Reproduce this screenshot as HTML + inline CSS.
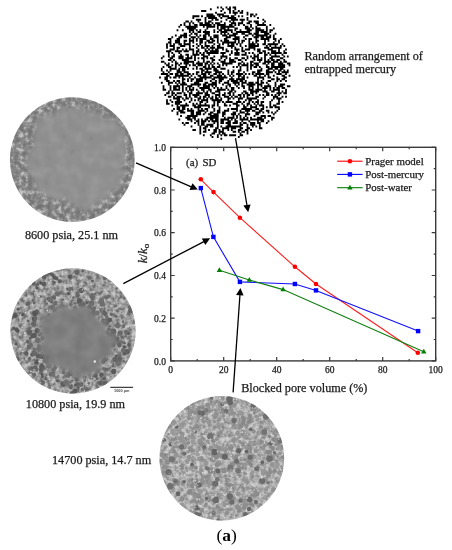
<!DOCTYPE html>
<html><head><meta charset="utf-8"><title>Figure</title><style>
html,body{margin:0;padding:0;background:#fff;}
body{width:452px;height:550px;overflow:hidden;}
svg{display:block;position:absolute;left:0;top:0;}
text{font-family:"Liberation Serif",serif;fill:#1a1a1a;stroke:#1a1a1a;stroke-width:0.25px;}
.tl{font-size:9.5px;}
.lg{font-size:10.9px;}
.ch{font-size:10.9px;}
.lab{font-size:12.2px;}
.yl{font-size:13px;}
.big{font-size:17.4px;fill:#000;stroke:none;}
</style></head>
<body><svg width="452" height="550" viewBox="0 0 452 550">
<defs>
<clipPath id="c1"><circle cx="72.3" cy="159.6" r="62.4"/></clipPath>
<clipPath id="c2"><circle cx="73" cy="330.9" r="62.6"/></clipPath>
<clipPath id="c3"><circle cx="221.8" cy="458.2" r="62.3"/></clipPath>
</defs>
<filter id="bl" color-interpolation-filters="sRGB"><feGaussianBlur stdDeviation="0.45"/></filter>
<filter id="bl2" x="-20%" y="-20%" width="140%" height="140%" color-interpolation-filters="sRGB"><feGaussianBlur stdDeviation="3"/></filter>
<filter id="bl3" color-interpolation-filters="sRGB"><feGaussianBlur stdDeviation="0.55"/></filter>
<filter id="x1" x="0" y="0" width="100%" height="100%" color-interpolation-filters="sRGB"><feTurbulence type="fractalNoise" baseFrequency="0.21" numOctaves="3" seed="17"/><feColorMatrix values="1 0 0 0 0  1 0 0 0 0  1 0 0 0 0  0 0 0 0 1"/><feComponentTransfer><feFuncR type="table" tableValues="0.45 0.45 0.45 0.46 0.49 0.53 0.60 0.70 0.78 0.80 0.80"/><feFuncG type="table" tableValues="0.45 0.45 0.45 0.46 0.49 0.53 0.60 0.70 0.78 0.80 0.80"/><feFuncB type="table" tableValues="0.45 0.45 0.45 0.46 0.49 0.53 0.60 0.70 0.78 0.80 0.80"/></feComponentTransfer></filter>
<filter id="x0" x="0" y="0" width="100%" height="100%" color-interpolation-filters="sRGB"><feTurbulence type="fractalNoise" baseFrequency="0.09" numOctaves="2" seed="5"/><feColorMatrix values="1 0 0 0 0  1 0 0 0 0  1 0 0 0 0  0 0 0 0 1"/><feComponentTransfer><feFuncR type="table" tableValues="0.53 0.53 0.54 0.56 0.56 0.57 0.58 0.59 0.60 0.60 0.60"/><feFuncG type="table" tableValues="0.53 0.53 0.54 0.56 0.56 0.57 0.58 0.59 0.60 0.60 0.60"/><feFuncB type="table" tableValues="0.53 0.53 0.54 0.56 0.56 0.57 0.58 0.59 0.60 0.60 0.60"/></feComponentTransfer></filter>
<filter id="x2" x="0" y="0" width="100%" height="100%" color-interpolation-filters="sRGB"><feTurbulence type="fractalNoise" baseFrequency="0.25" numOctaves="3" seed="9"/><feColorMatrix values="1 0 0 0 0  1 0 0 0 0  1 0 0 0 0  0 0 0 0 1"/><feComponentTransfer><feFuncR type="table" tableValues="0.40 0.40 0.41 0.45 0.53 0.61 0.68 0.74 0.79 0.79 0.79"/><feFuncG type="table" tableValues="0.40 0.40 0.41 0.45 0.53 0.61 0.68 0.74 0.79 0.79 0.79"/><feFuncB type="table" tableValues="0.40 0.40 0.41 0.45 0.53 0.61 0.68 0.74 0.79 0.79 0.79"/></feComponentTransfer></filter>
<filter id="x2c" x="0" y="0" width="100%" height="100%" color-interpolation-filters="sRGB"><feTurbulence type="fractalNoise" baseFrequency="0.08" numOctaves="2" seed="2"/><feColorMatrix values="1 0 0 0 0  1 0 0 0 0  1 0 0 0 0  0 0 0 0 1"/><feComponentTransfer><feFuncR type="table" tableValues="0.46 0.46 0.47 0.48 0.49 0.50 0.51 0.52 0.53 0.53 0.53"/><feFuncG type="table" tableValues="0.46 0.46 0.47 0.48 0.49 0.50 0.51 0.52 0.53 0.53 0.53"/><feFuncB type="table" tableValues="0.46 0.46 0.47 0.48 0.49 0.50 0.51 0.52 0.53 0.53 0.53"/></feComponentTransfer></filter>
<filter id="x3" x="0" y="0" width="100%" height="100%" color-interpolation-filters="sRGB"><feTurbulence type="fractalNoise" baseFrequency="0.24" numOctaves="3" seed="21"/><feColorMatrix values="1 0 0 0 0  1 0 0 0 0  1 0 0 0 0  0 0 0 0 1"/><feComponentTransfer><feFuncR type="table" tableValues="0.50 0.50 0.52 0.56 0.62 0.68 0.74 0.79 0.83 0.83 0.83"/><feFuncG type="table" tableValues="0.50 0.50 0.52 0.56 0.62 0.68 0.74 0.79 0.83 0.83 0.83"/><feFuncB type="table" tableValues="0.50 0.50 0.52 0.56 0.62 0.68 0.74 0.79 0.83 0.83 0.83"/></feComponentTransfer></filter>
<filter id="bm" x="-20%" y="-20%" width="140%" height="140%"><feGaussianBlur stdDeviation="1.2"/></filter>
<filter id="bm2" x="-20%" y="-20%" width="140%" height="140%"><feGaussianBlur stdDeviation="2.6"/></filter>
<g clip-path="url(#c1)"><rect x="9" y="97" width="127" height="126" filter="url(#x1)"/>
<g mask="url(#mk1)"><rect x="9" y="97" width="127" height="126" filter="url(#x0)"/></g>
<mask id="mk1"><polygon points="125.5,159.6 125.6,161.7 123.8,163.7 122.7,165.6 121.4,167.4 124.7,170 123.6,171.9 124.7,174.4 122.5,175.9 123.8,178.6 120.8,179.7 122.3,182.7 120.9,184.4 118.3,185.4 117.5,187.3 116.7,189.3 113.2,189.3 113.1,191.8 112.6,194 109.1,193.6 109.5,196.8 107.6,197.8 106.7,199.8 103.6,199.3 101.4,199.7 102,204 100.4,205.4 97.8,205.1 95.3,204.7 93.7,206.1 92.7,208.8 90.1,207.8 89.1,211.2 86.4,209.5 83.8,207.3 82.1,209.1 79.8,207 78.1,209 76.1,207.9 74.1,204.9 72.3,204.6 70.6,203.9 68.8,203.6 67.1,203.7 66.1,198.5 64.3,199.7 62.5,200.6 61.2,199 59.1,200.3 58.2,197.9 54.9,201.5 53.8,199.8 52.8,197.8 49.7,199.9 48.8,197.9 47.4,196.8 45,197.2 44.5,194.8 43,194 39.5,195.1 38.9,193 40.4,189.1 36.6,190.1 38.7,186.1 36.7,185.5 33.5,185.5 33.9,183.1 34.5,180.8 33.3,179.5 32.4,178 32.8,176 27.8,176 31.5,172.9 29,171.8 26.7,170.5 27.9,168.4 24.7,167.1 28.1,164.8 24.5,163.4 25.1,161.5 26.6,159.6 26.1,157.8 28.9,156.2 27.7,154.3 28.7,152.7 30.8,151.3 31.7,149.8 31.1,148 33,146.8 34.9,145.8 32,142.9 34.3,142.1 33.4,139.8 32,137.1 34.7,136.5 35.3,134.9 34.9,132.5 33.3,128.9 34.6,127.4 35.6,125.7 35.8,123.1 35.2,119.5 38.8,120.3 39.7,118.3 40,115.2 42.6,115.2 45.4,115.7 46.8,114.1 48.8,113.5 51.5,114.6 53,113 55.1,113 56.2,110.1 58.9,112 60.3,109.8 62,107.7 64,107.3 66.4,109.5 68.2,107.7 70.3,108.6 72.3,107.8 74.4,107 76.6,105.4 78.8,104.7 80.5,108 82.2,109.8 84.7,108.1 86.1,110.7 87.9,111.6 91,108.9 91.6,112.9 94.7,111.1 95.8,113.6 99,111.9 100.8,113.2 100.6,117.3 102.9,117.5 107.3,115.2 108.4,117.3 110,118.8 113.5,118.4 115.8,119.4 116.8,121.6 118.7,123 119.1,125.6 121.8,126.6 122.3,129 125.5,129.8 126.3,132.1 124.8,135.4 127.4,136.8 125,140.2 124.9,142.5 127.2,144.1 126,146.7 127.7,148.6 125.9,151.1 125.9,153.3 122.7,155.6 125.9,157.5" fill="#fff" filter="url(#bm2)"/></mask>
</g>
<g clip-path="url(#c2)"><rect x="10" y="268" width="127" height="127" filter="url(#x2)"/>
<g filter="url(#bl)">
<circle cx="33.5" cy="283.4" r="2.1" fill="#616161"/><circle cx="79.5" cy="360.1" r="1.8" fill="#575757"/><circle cx="82.7" cy="271" r="1.5" fill="#636363"/><circle cx="34.2" cy="374.7" r="2" fill="#686868"/><circle cx="18.1" cy="309.2" r="1.6" fill="#5b5b5b"/><circle cx="130.2" cy="307.4" r="2.3" fill="#6a6a6a"/><circle cx="74.9" cy="303.3" r="1.5" fill="#6c6c6c"/><circle cx="77" cy="272.3" r="2.6" fill="#666666"/><circle cx="46" cy="378.8" r="1.7" fill="#5b5b5b"/><circle cx="48.9" cy="315.1" r="2" fill="#5f5f5f"/><circle cx="82.5" cy="338.6" r="1.9" fill="#6b6b6b"/><circle cx="123" cy="321.8" r="1.2" fill="#646464"/><circle cx="54.9" cy="322.4" r="1.7" fill="#5c5c5c"/><circle cx="74.5" cy="318.5" r="1.3" fill="#5c5c5c"/><circle cx="31.9" cy="336.7" r="1.7" fill="#606060"/><circle cx="124.3" cy="347.1" r="1.8" fill="#585858"/><circle cx="77.4" cy="367.9" r="2.1" fill="#5c5c5c"/><circle cx="92.5" cy="280.9" r="1.4" fill="#595959"/><circle cx="68.1" cy="374.3" r="1.9" fill="#666666"/><circle cx="27.4" cy="303.9" r="2.2" fill="#656565"/><circle cx="70" cy="276.5" r="2.2" fill="#595959"/><circle cx="113" cy="344.5" r="2.6" fill="#565656"/><circle cx="33.8" cy="312.2" r="1.2" fill="#595959"/><circle cx="31.9" cy="354.9" r="1.8" fill="#5e5e5e"/><circle cx="34.3" cy="353.3" r="2.7" fill="#676767"/><circle cx="42.3" cy="376.7" r="1.4" fill="#5e5e5e"/><circle cx="104.6" cy="341" r="2.1" fill="#626262"/><circle cx="53.5" cy="360.3" r="2.6" fill="#5b5b5b"/><circle cx="15.2" cy="315.6" r="2.5" fill="#575757"/><circle cx="36.1" cy="362.7" r="2.1" fill="#575757"/><circle cx="104.3" cy="358.2" r="1.8" fill="#5d5d5d"/><circle cx="81.3" cy="290.6" r="2.6" fill="#606060"/><circle cx="17.5" cy="330.7" r="2.1" fill="#575757"/><circle cx="116.5" cy="356" r="1.5" fill="#565656"/><circle cx="37.4" cy="369.9" r="1.8" fill="#6b6b6b"/><circle cx="39.6" cy="335.2" r="1.3" fill="#606060"/><circle cx="96.7" cy="356.3" r="2.1" fill="#595959"/><circle cx="32.4" cy="368.8" r="2.5" fill="#676767"/><circle cx="91.4" cy="303.2" r="2.5" fill="#5e5e5e"/><circle cx="34" cy="303.1" r="1.4" fill="#666666"/><circle cx="72.5" cy="330.9" r="1.3" fill="#676767"/><circle cx="34.3" cy="319.1" r="2.5" fill="#585858"/><circle cx="58.8" cy="350.4" r="1.4" fill="#5b5b5b"/><circle cx="52.8" cy="275.1" r="1.9" fill="#5a5a5a"/><circle cx="35" cy="313.6" r="2.6" fill="#565656"/><circle cx="76.4" cy="364.4" r="1.1" fill="#666666"/><circle cx="96.3" cy="369.3" r="2.4" fill="#595959"/><circle cx="81.8" cy="383.7" r="1.5" fill="#5f5f5f"/><circle cx="62" cy="346.2" r="2.3" fill="#606060"/><circle cx="50.7" cy="353" r="2.4" fill="#575757"/><circle cx="92.1" cy="308.5" r="1.6" fill="#5d5d5d"/><circle cx="40.8" cy="283.1" r="1.6" fill="#565656"/><circle cx="46" cy="317.6" r="1.3" fill="#626262"/><circle cx="48.8" cy="336.1" r="2.5" fill="#616161"/><circle cx="123.5" cy="326.4" r="1.5" fill="#676767"/><circle cx="37.6" cy="284.3" r="1.5" fill="#5f5f5f"/><circle cx="80" cy="324" r="1.5" fill="#5d5d5d"/><circle cx="70.6" cy="368.6" r="1.9" fill="#585858"/><circle cx="94.9" cy="294.1" r="1.3" fill="#6b6b6b"/><circle cx="83.4" cy="325.8" r="2.1" fill="#575757"/><circle cx="59.8" cy="325.8" r="2.5" fill="#646464"/><circle cx="55.6" cy="304.1" r="1.1" fill="#585858"/><circle cx="104.8" cy="278.3" r="2" fill="#6a6a6a"/><circle cx="43.9" cy="284" r="2.3" fill="#5b5b5b"/><circle cx="83.7" cy="306.3" r="1.5" fill="#6c6c6c"/><circle cx="35.2" cy="367.5" r="2.3" fill="#646464"/><circle cx="80.2" cy="290.2" r="1.7" fill="#646464"/><circle cx="80.1" cy="371.3" r="1.5" fill="#5c5c5c"/><circle cx="108.4" cy="296.5" r="1.9" fill="#6b6b6b"/><circle cx="46.8" cy="274.1" r="2.6" fill="#696969"/><circle cx="79.8" cy="312.7" r="2.4" fill="#616161"/><circle cx="104.1" cy="311.9" r="1.7" fill="#5a5a5a"/><circle cx="16.2" cy="344" r="1.6" fill="#595959"/><circle cx="26.3" cy="353.5" r="2.2" fill="#5d5d5d"/><circle cx="60" cy="281.1" r="1.9" fill="#5e5e5e"/><circle cx="70.9" cy="288.8" r="2.1" fill="#6c6c6c"/><circle cx="22.9" cy="314.7" r="1.9" fill="#5b5b5b"/><circle cx="99.9" cy="355.3" r="2.2" fill="#6b6b6b"/><circle cx="66" cy="324.7" r="2.2" fill="#686868"/><circle cx="50.7" cy="374.4" r="2.3" fill="#6a6a6a"/><circle cx="78.1" cy="384" r="2.1" fill="#606060"/><circle cx="81.7" cy="345.2" r="1.5" fill="#606060"/><circle cx="126.4" cy="332.3" r="2.5" fill="#6c6c6c"/><circle cx="54.3" cy="277.4" r="1.8" fill="#565656"/><circle cx="67" cy="316.5" r="1.2" fill="#696969"/><circle cx="13.9" cy="328.5" r="1.4" fill="#595959"/><circle cx="87.1" cy="367.6" r="1.4" fill="#5f5f5f"/><circle cx="68.5" cy="293.6" r="1.7" fill="#5b5b5b"/><circle cx="67.3" cy="289" r="1.1" fill="#595959"/><circle cx="34.6" cy="321.1" r="2.1" fill="#656565"/><circle cx="89.4" cy="306.8" r="2.2" fill="#5e5e5e"/><circle cx="56.4" cy="278.5" r="1.9" fill="#5d5d5d"/><circle cx="28.2" cy="321.1" r="1.3" fill="#5e5e5e"/><circle cx="104.8" cy="313.7" r="2.6" fill="#646464"/><circle cx="76.2" cy="379" r="1.9" fill="#565656"/><circle cx="36.9" cy="360.2" r="1.2" fill="#565656"/><circle cx="54.2" cy="282.3" r="1.5" fill="#616161"/><circle cx="42.8" cy="382.5" r="2.4" fill="#696969"/><circle cx="70.7" cy="322.1" r="2.3" fill="#616161"/><circle cx="124.8" cy="353.7" r="1.7" fill="#5e5e5e"/><circle cx="87.4" cy="352" r="2.2" fill="#676767"/><circle cx="36.9" cy="287.8" r="1.5" fill="#585858"/><circle cx="16.6" cy="329.2" r="2" fill="#595959"/><circle cx="123.9" cy="361.1" r="1.1" fill="#6a6a6a"/><circle cx="108.9" cy="329.3" r="1.8" fill="#666666"/><circle cx="95.2" cy="363.2" r="2.3" fill="#5b5b5b"/><circle cx="50.6" cy="273.9" r="1.4" fill="#575757"/><circle cx="105.1" cy="323.7" r="2.4" fill="#666666"/><circle cx="73.4" cy="297.5" r="1.3" fill="#696969"/><circle cx="128.7" cy="333.5" r="1.7" fill="#616161"/><circle cx="63.1" cy="372.7" r="1.3" fill="#595959"/><circle cx="129.1" cy="344.5" r="1.7" fill="#5c5c5c"/><circle cx="41.5" cy="364.4" r="1.3" fill="#5f5f5f"/><circle cx="17.4" cy="359.2" r="2.4" fill="#626262"/><circle cx="51.2" cy="301.6" r="1.7" fill="#595959"/><circle cx="130.6" cy="310.7" r="2.5" fill="#616161"/><circle cx="44.2" cy="277.4" r="2.3" fill="#606060"/><circle cx="109.8" cy="320" r="2.3" fill="#595959"/><circle cx="72.1" cy="393.4" r="2.3" fill="#5d5d5d"/><circle cx="99.1" cy="350.3" r="2.4" fill="#646464"/>
<circle cx="99.6" cy="373.4" r="0.5" fill="#c9c9c9"/><circle cx="34.7" cy="352.3" r="0.4" fill="#dcdcdc"/><circle cx="45.9" cy="383.8" r="0.4" fill="#d2d2d2"/><circle cx="24.9" cy="333" r="0.9" fill="#dbdbdb"/><circle cx="116.2" cy="353.7" r="0.6" fill="#c6c6c6"/><circle cx="96.4" cy="300.1" r="0.7" fill="#d9d9d9"/><circle cx="51.3" cy="306.5" r="0.7" fill="#cfcfcf"/><circle cx="93.1" cy="272.5" r="0.5" fill="#cecece"/><circle cx="22.5" cy="351.6" r="0.8" fill="#dedede"/><circle cx="116.5" cy="329.6" r="0.5" fill="#d5d5d5"/><circle cx="103.4" cy="384.1" r="0.4" fill="#d3d3d3"/><circle cx="108.6" cy="350" r="0.6" fill="#cacaca"/><circle cx="26.8" cy="331.6" r="0.9" fill="#dcdcdc"/><circle cx="38.7" cy="368" r="0.4" fill="#c8c8c8"/><circle cx="43.1" cy="348.9" r="0.7" fill="#d0d0d0"/><circle cx="36.3" cy="306.6" r="0.4" fill="#cfcfcf"/><circle cx="114.5" cy="299.7" r="0.5" fill="#d6d6d6"/><circle cx="113.8" cy="311" r="0.8" fill="#e0e0e0"/><circle cx="56.9" cy="275.5" r="0.6" fill="#cecece"/><circle cx="65.3" cy="366.8" r="0.4" fill="#c6c6c6"/><circle cx="112" cy="335.8" r="0.7" fill="#d1d1d1"/><circle cx="116.9" cy="373.2" r="0.5" fill="#cfcfcf"/><circle cx="47.2" cy="310.4" r="0.9" fill="#dddddd"/><circle cx="82.9" cy="368.9" r="0.9" fill="#d5d5d5"/><circle cx="60.5" cy="317.5" r="0.5" fill="#d2d2d2"/><circle cx="58.2" cy="363.5" r="0.6" fill="#dbdbdb"/><circle cx="70.7" cy="367.6" r="0.5" fill="#cbcbcb"/><circle cx="116.2" cy="334.6" r="0.8" fill="#cacaca"/><circle cx="20.7" cy="297.6" r="0.4" fill="#dadada"/><circle cx="71.6" cy="291.2" r="0.6" fill="#cdcdcd"/><circle cx="28" cy="331.4" r="0.4" fill="#dddddd"/><circle cx="75.8" cy="333.6" r="0.6" fill="#d9d9d9"/><circle cx="92.3" cy="325.1" r="0.7" fill="#d1d1d1"/><circle cx="125.3" cy="350.9" r="0.8" fill="#c8c8c8"/><circle cx="53.1" cy="292.2" r="0.5" fill="#c8c8c8"/><circle cx="65.6" cy="311" r="0.9" fill="#dfdfdf"/><circle cx="39.5" cy="345.9" r="0.5" fill="#cdcdcd"/><circle cx="86.1" cy="380.5" r="0.9" fill="#d2d2d2"/><circle cx="133.2" cy="338.9" r="0.6" fill="#cecece"/><circle cx="134.6" cy="325.3" r="0.8" fill="#dfdfdf"/><circle cx="112.7" cy="360.1" r="0.5" fill="#cbcbcb"/><circle cx="45" cy="327.9" r="0.7" fill="#d6d6d6"/><circle cx="40.2" cy="309.5" r="0.5" fill="#d3d3d3"/><circle cx="79.5" cy="386" r="0.5" fill="#d8d8d8"/><circle cx="85.1" cy="305" r="0.5" fill="#dedede"/><circle cx="39" cy="370.7" r="0.9" fill="#d4d4d4"/><circle cx="59.6" cy="277.7" r="0.6" fill="#dedede"/><circle cx="126.2" cy="313" r="0.6" fill="#d6d6d6"/><circle cx="62.2" cy="272.5" r="0.5" fill="#c4c4c4"/><circle cx="48.2" cy="366.5" r="0.8" fill="#d6d6d6"/><circle cx="124.4" cy="363.7" r="0.7" fill="#cfcfcf"/><circle cx="75.1" cy="344.8" r="0.8" fill="#c9c9c9"/><circle cx="45.2" cy="374.7" r="0.5" fill="#e0e0e0"/><circle cx="30.9" cy="374.3" r="0.5" fill="#d7d7d7"/><circle cx="40.6" cy="382.8" r="0.5" fill="#dcdcdc"/><circle cx="71.2" cy="388.5" r="0.6" fill="#d5d5d5"/><circle cx="101.7" cy="373.7" r="0.6" fill="#c7c7c7"/><circle cx="86.2" cy="349.7" r="0.6" fill="#dbdbdb"/><circle cx="32.8" cy="344" r="0.8" fill="#d6d6d6"/><circle cx="35.6" cy="290.2" r="0.6" fill="#dcdcdc"/><circle cx="42.3" cy="327.8" r="0.6" fill="#c5c5c5"/><circle cx="69" cy="313.9" r="0.5" fill="#dedede"/><circle cx="103" cy="351.8" r="0.5" fill="#d8d8d8"/><circle cx="31" cy="371.4" r="0.8" fill="#cccccc"/><circle cx="19.5" cy="334.4" r="0.8" fill="#cbcbcb"/><circle cx="102.5" cy="372.8" r="0.8" fill="#cecece"/><circle cx="82.5" cy="289.8" r="0.6" fill="#dfdfdf"/><circle cx="131.2" cy="327.8" r="0.4" fill="#d9d9d9"/><circle cx="30.5" cy="350.4" r="0.6" fill="#cacaca"/><circle cx="91.1" cy="283.9" r="0.6" fill="#dfdfdf"/><circle cx="88.2" cy="387.9" r="0.8" fill="#cacaca"/><circle cx="70.2" cy="295.6" r="0.5" fill="#c8c8c8"/><circle cx="73.4" cy="361.9" r="0.7" fill="#dbdbdb"/><circle cx="110" cy="282.8" r="0.5" fill="#c4c4c4"/><circle cx="26.2" cy="358.9" r="0.8" fill="#c8c8c8"/><circle cx="76" cy="313" r="0.7" fill="#d1d1d1"/><circle cx="77.1" cy="304.6" r="0.5" fill="#cccccc"/><circle cx="22.9" cy="322.4" r="0.6" fill="#d7d7d7"/><circle cx="50.9" cy="280.5" r="0.8" fill="#d0d0d0"/><circle cx="87.2" cy="330.6" r="0.5" fill="#c5c5c5"/><circle cx="64.7" cy="327.2" r="0.4" fill="#cfcfcf"/><circle cx="102.3" cy="343.4" r="0.6" fill="#d0d0d0"/><circle cx="22.3" cy="327.2" r="0.8" fill="#dfdfdf"/><circle cx="28.1" cy="340.4" r="0.9" fill="#e0e0e0"/><circle cx="91.5" cy="377.4" r="0.6" fill="#e0e0e0"/><circle cx="94.2" cy="342.9" r="0.9" fill="#c9c9c9"/><circle cx="57.2" cy="283.6" r="0.8" fill="#cccccc"/><circle cx="25.6" cy="312.8" r="0.7" fill="#dcdcdc"/><circle cx="42.1" cy="368.7" r="0.7" fill="#d5d5d5"/><circle cx="54.6" cy="310.3" r="0.9" fill="#d9d9d9"/><circle cx="39.2" cy="321" r="0.6" fill="#dfdfdf"/><circle cx="82.6" cy="321.6" r="0.6" fill="#c5c5c5"/><circle cx="48.9" cy="318.1" r="0.5" fill="#c7c7c7"/><circle cx="68.2" cy="392.6" r="0.7" fill="#c9c9c9"/><circle cx="106.6" cy="339.1" r="0.5" fill="#c9c9c9"/><circle cx="84" cy="349" r="0.7" fill="#c7c7c7"/><circle cx="80.1" cy="337.1" r="0.9" fill="#d6d6d6"/><circle cx="39.3" cy="296.8" r="0.8" fill="#d4d4d4"/><circle cx="81.6" cy="298.7" r="0.6" fill="#cbcbcb"/><circle cx="47.2" cy="341.3" r="0.9" fill="#d5d5d5"/><circle cx="120.2" cy="318.8" r="0.4" fill="#d9d9d9"/><circle cx="34" cy="369.8" r="0.8" fill="#cacaca"/><circle cx="54.4" cy="327.4" r="0.5" fill="#c6c6c6"/><circle cx="113.1" cy="309.6" r="0.6" fill="#d4d4d4"/><circle cx="64.4" cy="356.4" r="0.8" fill="#dfdfdf"/><circle cx="122.3" cy="363.2" r="0.4" fill="#c6c6c6"/><circle cx="59.6" cy="373.9" r="0.6" fill="#c9c9c9"/><circle cx="44.9" cy="290.6" r="0.7" fill="#c6c6c6"/><circle cx="35.6" cy="329.1" r="0.4" fill="#d8d8d8"/><circle cx="39.4" cy="361.5" r="0.8" fill="#d1d1d1"/><circle cx="117.1" cy="347" r="0.6" fill="#cfcfcf"/><circle cx="99.3" cy="282.8" r="0.5" fill="#cfcfcf"/><circle cx="45.9" cy="287.9" r="0.6" fill="#c8c8c8"/><circle cx="111.2" cy="282.8" r="0.9" fill="#cccccc"/><circle cx="49.5" cy="379.5" r="0.9" fill="#d7d7d7"/><circle cx="69.1" cy="388.2" r="0.5" fill="#c4c4c4"/><circle cx="102.2" cy="355.1" r="0.5" fill="#cacaca"/><circle cx="92.2" cy="354.5" r="0.5" fill="#dddddd"/><circle cx="27.6" cy="288.8" r="0.8" fill="#d2d2d2"/><circle cx="108.9" cy="342.2" r="0.7" fill="#cfcfcf"/><circle cx="92.6" cy="341.7" r="0.5" fill="#c7c7c7"/><circle cx="117.3" cy="307.7" r="0.6" fill="#dedede"/><circle cx="62.6" cy="271.3" r="0.7" fill="#d1d1d1"/><circle cx="84.6" cy="391.1" r="0.8" fill="#dbdbdb"/><circle cx="77.4" cy="279.7" r="0.5" fill="#cacaca"/><circle cx="107.6" cy="292.7" r="0.9" fill="#d0d0d0"/><circle cx="58.8" cy="297.8" r="0.7" fill="#cfcfcf"/><circle cx="102.9" cy="315.9" r="0.7" fill="#d3d3d3"/><circle cx="128.2" cy="326.7" r="0.9" fill="#d6d6d6"/><circle cx="32.1" cy="289.1" r="0.6" fill="#d7d7d7"/><circle cx="25.3" cy="345.1" r="0.7" fill="#cdcdcd"/><circle cx="51.5" cy="387" r="0.8" fill="#d2d2d2"/><circle cx="52.4" cy="379.3" r="0.5" fill="#c7c7c7"/><circle cx="101.8" cy="341.9" r="0.4" fill="#cecece"/><circle cx="21.8" cy="329" r="0.7" fill="#d1d1d1"/><circle cx="65.3" cy="313.8" r="0.6" fill="#d5d5d5"/><circle cx="46.9" cy="378.8" r="0.4" fill="#dbdbdb"/><circle cx="84.3" cy="367.2" r="0.7" fill="#c5c5c5"/><circle cx="87.1" cy="384.3" r="0.6" fill="#dbdbdb"/><circle cx="50.2" cy="339" r="0.8" fill="#cacaca"/>
</g>
<g filter="url(#bl)"><circle cx="87" cy="302.9" r="1.4" fill="#5b5b5b"/><circle cx="63.1" cy="384.1" r="2.8" fill="#5f5f5f"/><circle cx="104.2" cy="378.4" r="1.9" fill="#606060"/><circle cx="127.9" cy="350" r="1.3" fill="#5e5e5e"/><circle cx="29.9" cy="338.4" r="1.3" fill="#626262"/><circle cx="106.8" cy="369.4" r="1.5" fill="#676767"/><circle cx="85.6" cy="377.1" r="1.1" fill="#5e5e5e"/><circle cx="58.8" cy="293.5" r="2.1" fill="#696969"/><circle cx="118.1" cy="362.9" r="2.8" fill="#6f6f6f"/><circle cx="84.8" cy="380.8" r="1.2" fill="#6a6a6a"/><circle cx="39.1" cy="349.4" r="2.4" fill="#696969"/><circle cx="112" cy="334.2" r="2.1" fill="#696969"/><circle cx="113.8" cy="334.4" r="2" fill="#707070"/><circle cx="120.2" cy="333.1" r="2.7" fill="#686868"/><circle cx="75.6" cy="384.9" r="1.7" fill="#5c5c5c"/><circle cx="79.6" cy="300.9" r="2.7" fill="#595959"/><circle cx="119.3" cy="355.6" r="2.3" fill="#707070"/><circle cx="113.3" cy="337.9" r="2.8" fill="#6a6a6a"/><circle cx="61.2" cy="306.8" r="1.8" fill="#6e6e6e"/><circle cx="54.5" cy="310.6" r="2" fill="#585858"/><circle cx="101.4" cy="300.9" r="2.7" fill="#707070"/><circle cx="48" cy="356.4" r="2.4" fill="#5c5c5c"/><circle cx="78" cy="295.3" r="1" fill="#585858"/><circle cx="78" cy="387.7" r="1.8" fill="#646464"/><circle cx="109.4" cy="334.9" r="2.5" fill="#5f5f5f"/><circle cx="71.7" cy="385.4" r="1.2" fill="#5d5d5d"/><circle cx="97.5" cy="371.1" r="2.6" fill="#6d6d6d"/><circle cx="37.7" cy="340.1" r="2.8" fill="#6e6e6e"/><circle cx="70.9" cy="304.3" r="1.9" fill="#6b6b6b"/><circle cx="93.3" cy="311.4" r="2.1" fill="#616161"/><circle cx="37.1" cy="330.5" r="2.6" fill="#585858"/><circle cx="41.1" cy="318.4" r="1" fill="#5c5c5c"/><circle cx="124.6" cy="343.3" r="1.2" fill="#5e5e5e"/><circle cx="53.9" cy="296.5" r="1.3" fill="#6d6d6d"/><circle cx="43.7" cy="368.4" r="1.9" fill="#6e6e6e"/><circle cx="91.8" cy="303.4" r="2.6" fill="#6c6c6c"/><circle cx="42.2" cy="356.4" r="2.6" fill="#5a5a5a"/><circle cx="97.1" cy="313.1" r="2.6" fill="#707070"/><circle cx="68.1" cy="375.6" r="2.3" fill="#6d6d6d"/><circle cx="29" cy="346.9" r="2.4" fill="#686868"/><circle cx="41.8" cy="366.6" r="2.7" fill="#606060"/><circle cx="41" cy="373" r="2" fill="#6e6e6e"/><circle cx="48" cy="298.7" r="1.5" fill="#5b5b5b"/><circle cx="101.5" cy="374.6" r="2.4" fill="#595959"/><circle cx="86.8" cy="389" r="2.1" fill="#6b6b6b"/><circle cx="58.9" cy="307.8" r="1" fill="#6f6f6f"/><circle cx="107" cy="332.6" r="2.2" fill="#5c5c5c"/><circle cx="70.7" cy="373.4" r="2.7" fill="#595959"/><circle cx="54" cy="297.4" r="2" fill="#646464"/><circle cx="113.6" cy="363.9" r="1.1" fill="#666666"/><circle cx="47.1" cy="303.5" r="1" fill="#666666"/><circle cx="74.7" cy="307.3" r="1.7" fill="#696969"/><circle cx="94" cy="314.5" r="1" fill="#595959"/><circle cx="49.1" cy="366.1" r="2.7" fill="#6c6c6c"/><circle cx="91.9" cy="295.8" r="2.7" fill="#6c6c6c"/><circle cx="103.9" cy="321.2" r="2.6" fill="#5a5a5a"/><circle cx="115.2" cy="359.3" r="2.8" fill="#646464"/><circle cx="42.7" cy="338.1" r="2.3" fill="#5e5e5e"/><circle cx="29.1" cy="328.3" r="1.6" fill="#676767"/><circle cx="80.8" cy="385.3" r="1.8" fill="#6a6a6a"/><circle cx="40.8" cy="370" r="2" fill="#5e5e5e"/><circle cx="47.4" cy="360.1" r="2.4" fill="#6c6c6c"/><circle cx="117.4" cy="338.9" r="2.2" fill="#626262"/><circle cx="112.7" cy="332" r="1.9" fill="#636363"/><circle cx="83.2" cy="303.8" r="1.6" fill="#5f5f5f"/><circle cx="109.5" cy="326.5" r="1.3" fill="#606060"/><circle cx="35.2" cy="333.7" r="1.5" fill="#5f5f5f"/><circle cx="63" cy="306.4" r="2.1" fill="#5a5a5a"/><circle cx="69.1" cy="372.5" r="1" fill="#616161"/><circle cx="35.3" cy="318" r="1.9" fill="#656565"/><circle cx="56.9" cy="293.8" r="2.4" fill="#6d6d6d"/><circle cx="29.6" cy="358.4" r="1.6" fill="#676767"/><circle cx="116.1" cy="316.2" r="1.7" fill="#696969"/><circle cx="34.1" cy="359.9" r="1" fill="#6b6b6b"/><circle cx="63.6" cy="372" r="1.9" fill="#666666"/><circle cx="59.8" cy="307.9" r="1.1" fill="#626262"/><circle cx="106.7" cy="319.4" r="1.5" fill="#5b5b5b"/><circle cx="55.3" cy="367.6" r="1.8" fill="#5c5c5c"/><circle cx="97.2" cy="378.4" r="1.5" fill="#636363"/><circle cx="118.2" cy="325.8" r="2.2" fill="#707070"/><circle cx="84" cy="304.7" r="1.8" fill="#585858"/><circle cx="39.3" cy="346.6" r="2.1" fill="#5f5f5f"/><circle cx="88.8" cy="383.4" r="1.1" fill="#676767"/><circle cx="113.7" cy="371.4" r="2.6" fill="#5a5a5a"/><circle cx="123.8" cy="349.8" r="1.9" fill="#606060"/><circle cx="47.5" cy="359" r="1.3" fill="#636363"/><circle cx="33.6" cy="335.7" r="2.6" fill="#595959"/><circle cx="50.1" cy="299.7" r="2.7" fill="#6f6f6f"/><circle cx="100.3" cy="383.3" r="2.4" fill="#606060"/><circle cx="53.5" cy="369.8" r="2.3" fill="#696969"/><circle cx="106.2" cy="359.3" r="2.1" fill="#6e6e6e"/><circle cx="47.8" cy="298.5" r="1.2" fill="#676767"/><circle cx="35.4" cy="353.8" r="1.7" fill="#666666"/><circle cx="104.1" cy="360.6" r="2.2" fill="#5f5f5f"/><circle cx="66" cy="382.3" r="2.7" fill="#6f6f6f"/><circle cx="71" cy="387.9" r="1.7" fill="#626262"/><circle cx="81.6" cy="390.6" r="1.1" fill="#696969"/><circle cx="75" cy="391.1" r="2.5" fill="#585858"/><circle cx="45.6" cy="355.9" r="1.4" fill="#6f6f6f"/><circle cx="55.7" cy="302.5" r="2.1" fill="#6e6e6e"/><circle cx="82.5" cy="302.1" r="1.4" fill="#707070"/><circle cx="122.1" cy="337.1" r="1.9" fill="#6a6a6a"/><circle cx="27.8" cy="341.5" r="1.9" fill="#656565"/><circle cx="96.7" cy="371.1" r="1.1" fill="#5d5d5d"/><circle cx="119.3" cy="345" r="2.4" fill="#606060"/><circle cx="33.6" cy="324.1" r="2.5" fill="#656565"/><circle cx="117.6" cy="323.5" r="1.2" fill="#666666"/><circle cx="126.2" cy="352.5" r="1.8" fill="#5d5d5d"/><circle cx="102.8" cy="362.1" r="2" fill="#606060"/><circle cx="76.6" cy="293.1" r="1.2" fill="#6e6e6e"/><circle cx="42.4" cy="375.9" r="1.5" fill="#5d5d5d"/><circle cx="65.9" cy="376" r="1.7" fill="#6f6f6f"/><circle cx="53.3" cy="374.7" r="2" fill="#707070"/><circle cx="30.9" cy="345.1" r="2.3" fill="#6d6d6d"/><circle cx="123.2" cy="350.4" r="2.4" fill="#6e6e6e"/><circle cx="38.3" cy="356.2" r="2.4" fill="#5c5c5c"/><circle cx="103.4" cy="368.4" r="1.2" fill="#626262"/><circle cx="106.8" cy="322.8" r="2.1" fill="#5f5f5f"/><circle cx="30.5" cy="328" r="1.2" fill="#6d6d6d"/><circle cx="80.6" cy="305.2" r="2.1" fill="#5c5c5c"/><circle cx="64.1" cy="369" r="1.5" fill="#5c5c5c"/><circle cx="78.1" cy="390.4" r="1.3" fill="#676767"/><circle cx="92.1" cy="297.9" r="2.1" fill="#686868"/><circle cx="82.4" cy="389.1" r="1.7" fill="#6e6e6e"/><circle cx="48.5" cy="360.4" r="1.4" fill="#6b6b6b"/><circle cx="88.7" cy="388.9" r="1.2" fill="#696969"/><circle cx="104.5" cy="383" r="2.4" fill="#636363"/><circle cx="36.9" cy="311.2" r="1.9" fill="#5c5c5c"/><circle cx="95.6" cy="375.6" r="2.3" fill="#5a5a5a"/><circle cx="41" cy="333.4" r="1.7" fill="#606060"/><circle cx="47" cy="362.8" r="1.9" fill="#6f6f6f"/><circle cx="111.4" cy="314.2" r="1.7" fill="#666666"/><circle cx="45" cy="360.5" r="2.5" fill="#6d6d6d"/><circle cx="124.2" cy="353.3" r="1.4" fill="#595959"/><circle cx="29.3" cy="332.1" r="2.8" fill="#616161"/><circle cx="112.8" cy="365.9" r="1.4" fill="#656565"/><circle cx="57" cy="380.7" r="1.5" fill="#626262"/><circle cx="98.8" cy="317.6" r="1.1" fill="#6e6e6e"/><circle cx="52.6" cy="307.5" r="2.8" fill="#6c6c6c"/><circle cx="106.9" cy="317.5" r="1.9" fill="#6e6e6e"/><circle cx="102.1" cy="303.9" r="2.7" fill="#6d6d6d"/><circle cx="119.7" cy="358.7" r="2.4" fill="#646464"/><circle cx="93.9" cy="308.5" r="2.2" fill="#696969"/><circle cx="63.4" cy="299.5" r="1" fill="#676767"/><circle cx="127.2" cy="351.8" r="2.7" fill="#646464"/><circle cx="41.9" cy="374.1" r="1.1" fill="#585858"/><circle cx="27.8" cy="331.1" r="1.7" fill="#616161"/><circle cx="105.1" cy="320.6" r="1.7" fill="#6d6d6d"/><circle cx="113.6" cy="331.1" r="2.7" fill="#646464"/><circle cx="77.7" cy="295.5" r="2.1" fill="#656565"/></g>
<mask id="mk2"><polygon points="114.4,340.5 119.1,342.2 114,343.6 117.1,345.5 112.8,346.5 113,348.1 116.6,350.5 111.3,350.7 113.1,352.9 111.3,353.9 110.3,355.1 109.5,356.4 106.7,356.7 108.8,359.4 103.7,358.1 103.3,359.4 101.3,359.6 101.8,361.6 102,363.5 103.8,367.1 101.2,366.7 99.8,367.3 99.8,369.5 101.6,374.3 97,370.8 97.4,374.1 95,373.1 94.1,374.5 91.5,372.8 90.8,374.8 88.9,374.1 88,375.7 87.2,378.2 85.5,377.6 83.6,376.2 82.2,376.8 81.7,382.6 79.7,380 77.9,377.9 76.6,381.5 75,378.2 73.5,377.7 72.1,377.4 71.2,372.7 70,372.2 68.2,374.6 68,369.7 65.9,372.8 65.9,368.5 63.6,371.3 62.5,370.7 60.7,371.4 59.8,370.3 59.5,368.1 59.1,366.4 57.8,366.2 54.9,368.1 53.2,368.1 53.2,366 48.3,369.4 48.6,366.9 46.7,366.6 48.2,363.3 47.8,361.9 48.7,359.6 46.9,359.3 46.9,357.7 45.4,357.1 44.6,356 40.8,356.3 39,355.4 41.5,352.8 39.1,352.2 39.7,350.5 36.5,349.7 34.9,348.5 40,346 37.5,344.9 41.2,343.2 43.6,341.7 39.5,340.5 42.1,339.2 42.8,338 40.8,336.5 41.5,335.2 39.9,333.5 39.3,331.9 39.3,330.4 38.3,328.6 40,327.6 41.1,326.5 41.2,324.9 41.1,323.2 39,320.3 40,319.1 38.2,315.9 40.5,315.5 40.7,313.5 41,311.5 46.9,314.5 48.9,314.4 50.2,313.7 51,312.4 51.8,311.1 52.6,309.6 55,310.6 54.1,306.3 58,310.1 56.7,304.5 59.6,307 59.4,302.9 62.9,307.6 62.7,302.7 64.9,304.6 66.3,304.1 68.4,307.3 70.2,310.2 70.9,305.6 72.5,308.5 73.8,310 75,306 76.4,305.8 77.8,305.1 79,306.5 80.4,306.4 82.3,303.8 83.6,304.8 84.4,307.1 86.3,305.8 88.2,304.6 89.6,305.2 90.4,307.2 91.4,308.3 92.4,309.5 92.9,311.3 93.4,312.9 94.8,313.2 94,316.4 96.7,315.1 97.1,316.5 97.5,318 95.9,321.2 98.6,320.3 100.4,320.4 100.4,322.1 106.2,319.6 106.5,321.2 106.1,323.1 107.8,323.8 105.2,326.6 105.3,327.9 106.9,328.7 108.3,329.7 108.1,331.2 105.2,333.2 110,333.5 113.2,334.4 113.9,335.9 116.5,337.2 118.1,338.8" fill="#fff" filter="url(#bm2)"/></mask>
<g mask="url(#mk2)"><rect x="10" y="268" width="127" height="127" filter="url(#x2c)"/></g>
<circle cx="94.8" cy="361.5" r="1.2" fill="#e8e8e8" filter="url(#bl)"/>
</g>
<g clip-path="url(#c3)"><rect x="159" y="395" width="126" height="126" filter="url(#x3)"/>
<g filter="url(#bl3)">
<circle cx="208.4" cy="481.1" r="1.3" fill="#8b8b8b"/><circle cx="226.2" cy="484.6" r="1.3" fill="#898989"/><circle cx="242" cy="412.9" r="1.9" fill="#969696"/><circle cx="225" cy="421.4" r="2" fill="#8b8b8b"/><circle cx="209.7" cy="420.6" r="1.6" fill="#939393"/><circle cx="233.9" cy="426.6" r="2.2" fill="#959595"/><circle cx="232.4" cy="464.1" r="2.5" fill="#8d8d8d"/><circle cx="203.8" cy="421.3" r="2.4" fill="#949494"/><circle cx="267.7" cy="477" r="1.4" fill="#959595"/><circle cx="250.4" cy="420" r="2.1" fill="#8f8f8f"/><circle cx="219.6" cy="428.7" r="1.5" fill="#9a9a9a"/><circle cx="208.9" cy="476.5" r="2.4" fill="#8e8e8e"/><circle cx="257.9" cy="434.1" r="1.4" fill="#999999"/><circle cx="264" cy="432.7" r="1.4" fill="#888888"/><circle cx="274.3" cy="470.8" r="2.1" fill="#8b8b8b"/><circle cx="242.9" cy="431.4" r="1.6" fill="#8e8e8e"/><circle cx="173.7" cy="421.1" r="1.6" fill="#949494"/><circle cx="257.8" cy="465.9" r="1.3" fill="#8b8b8b"/><circle cx="268.3" cy="475.3" r="2.5" fill="#8e8e8e"/><circle cx="201.3" cy="484.8" r="2.4" fill="#979797"/><circle cx="166.7" cy="472.1" r="1.9" fill="#939393"/><circle cx="281.8" cy="457" r="2" fill="#8b8b8b"/><circle cx="220" cy="495.2" r="2" fill="#979797"/><circle cx="191.2" cy="491.3" r="2.6" fill="#939393"/><circle cx="189.1" cy="408" r="2" fill="#969696"/><circle cx="165.7" cy="472.4" r="1.4" fill="#8e8e8e"/><circle cx="245.4" cy="465" r="1.9" fill="#989898"/><circle cx="224.8" cy="503" r="1.7" fill="#989898"/><circle cx="183.8" cy="472.5" r="1.6" fill="#969696"/><circle cx="200.1" cy="442.2" r="1.9" fill="#939393"/><circle cx="245.5" cy="468.1" r="1.3" fill="#8b8b8b"/><circle cx="250.8" cy="421.8" r="1.5" fill="#919191"/><circle cx="185" cy="506.8" r="1.6" fill="#9a9a9a"/><circle cx="189.7" cy="492.9" r="2.2" fill="#898989"/><circle cx="163.6" cy="472.5" r="2.4" fill="#909090"/><circle cx="226.3" cy="450.1" r="2.2" fill="#8e8e8e"/><circle cx="209.5" cy="497.8" r="1.7" fill="#8e8e8e"/><circle cx="189.4" cy="436" r="1.5" fill="#939393"/><circle cx="173.5" cy="422.8" r="2.6" fill="#979797"/><circle cx="270.2" cy="452.2" r="2.1" fill="#8d8d8d"/><circle cx="211.6" cy="404.4" r="1.3" fill="#979797"/><circle cx="194" cy="429.9" r="1.5" fill="#8f8f8f"/><circle cx="231.7" cy="446.2" r="2.3" fill="#8f8f8f"/><circle cx="189.3" cy="413.6" r="2" fill="#929292"/><circle cx="265.4" cy="479.4" r="2.2" fill="#888888"/><circle cx="206" cy="463.5" r="2.5" fill="#979797"/><circle cx="224.2" cy="502.9" r="1.6" fill="#949494"/><circle cx="209.1" cy="422.5" r="2.4" fill="#959595"/><circle cx="165.5" cy="467" r="2.5" fill="#8f8f8f"/><circle cx="244.7" cy="436.2" r="2.6" fill="#999999"/><circle cx="220.8" cy="520.3" r="1.3" fill="#898989"/><circle cx="198" cy="495.4" r="2.5" fill="#8f8f8f"/><circle cx="226.6" cy="450.8" r="1.3" fill="#888888"/><circle cx="221" cy="454.9" r="1.5" fill="#979797"/><circle cx="240.5" cy="425.2" r="2.6" fill="#969696"/><circle cx="230.4" cy="509.3" r="1.6" fill="#949494"/><circle cx="184.7" cy="423.2" r="1.2" fill="#969696"/><circle cx="215.7" cy="445.9" r="2.3" fill="#989898"/><circle cx="272.9" cy="449.2" r="1.9" fill="#8a8a8a"/><circle cx="216" cy="413" r="2" fill="#8e8e8e"/><circle cx="175.1" cy="443.4" r="1.4" fill="#929292"/><circle cx="202" cy="510.4" r="2.3" fill="#909090"/><circle cx="234" cy="498.2" r="1.7" fill="#8a8a8a"/><circle cx="182.7" cy="424.1" r="1.5" fill="#8d8d8d"/><circle cx="247.8" cy="434.6" r="2.1" fill="#969696"/><circle cx="213.3" cy="405.6" r="1.2" fill="#999999"/><circle cx="267.9" cy="455.3" r="1.3" fill="#959595"/><circle cx="219.6" cy="403.6" r="2" fill="#929292"/><circle cx="265.6" cy="434.3" r="1.2" fill="#929292"/><circle cx="174.5" cy="484" r="2" fill="#8f8f8f"/><circle cx="228.2" cy="469.7" r="2.3" fill="#909090"/><circle cx="177" cy="433.8" r="1.7" fill="#969696"/><circle cx="227.1" cy="502.5" r="2.6" fill="#909090"/><circle cx="252.7" cy="476.4" r="1.4" fill="#8c8c8c"/><circle cx="218.6" cy="462.5" r="2.3" fill="#8c8c8c"/><circle cx="212.6" cy="516.3" r="1.4" fill="#989898"/><circle cx="203.8" cy="444.4" r="2.4" fill="#979797"/><circle cx="201.4" cy="458.2" r="2.1" fill="#8e8e8e"/><circle cx="249.3" cy="456.1" r="1.6" fill="#8e8e8e"/><circle cx="247.7" cy="487.9" r="2" fill="#939393"/><circle cx="273.6" cy="489.8" r="2.5" fill="#919191"/><circle cx="281.7" cy="466.5" r="1.5" fill="#939393"/><circle cx="211.1" cy="433" r="1.2" fill="#919191"/><circle cx="209.3" cy="408.1" r="1.2" fill="#8d8d8d"/><circle cx="223.6" cy="416.1" r="1.2" fill="#8a8a8a"/><circle cx="227.1" cy="445.2" r="1.5" fill="#8b8b8b"/><circle cx="200" cy="427" r="2.4" fill="#979797"/><circle cx="274.6" cy="440.6" r="1.7" fill="#8d8d8d"/><circle cx="238.2" cy="425.9" r="1.4" fill="#888888"/><circle cx="178" cy="482" r="2.1" fill="#8b8b8b"/><circle cx="271.3" cy="430.9" r="1.4" fill="#8f8f8f"/><circle cx="202.4" cy="415.9" r="1.8" fill="#939393"/><circle cx="276.5" cy="430.5" r="1.6" fill="#909090"/><circle cx="280.2" cy="454" r="2.2" fill="#949494"/><circle cx="184.5" cy="447.6" r="1.9" fill="#898989"/><circle cx="161.5" cy="462.4" r="1.9" fill="#9a9a9a"/><circle cx="277.9" cy="454.7" r="1.2" fill="#9a9a9a"/><circle cx="255.1" cy="457.1" r="1.9" fill="#999999"/><circle cx="277" cy="431" r="2.6" fill="#909090"/><circle cx="170.4" cy="426.4" r="1.8" fill="#8f8f8f"/><circle cx="208.3" cy="481.3" r="2.5" fill="#8c8c8c"/><circle cx="234" cy="488.2" r="1.9" fill="#929292"/><circle cx="246.1" cy="473.8" r="1.3" fill="#949494"/><circle cx="209.2" cy="453.9" r="1.9" fill="#969696"/><circle cx="174" cy="459.1" r="2.1" fill="#949494"/><circle cx="180.7" cy="438.2" r="2.5" fill="#919191"/><circle cx="205.9" cy="505.7" r="1.3" fill="#909090"/><circle cx="230.5" cy="404.4" r="1.4" fill="#898989"/><circle cx="197.4" cy="450.7" r="1.5" fill="#898989"/><circle cx="254.2" cy="443.4" r="2.4" fill="#898989"/><circle cx="191.5" cy="451.6" r="1.2" fill="#8a8a8a"/><circle cx="206.4" cy="499.4" r="1.5" fill="#8b8b8b"/><circle cx="261.9" cy="441.9" r="2" fill="#898989"/><circle cx="284.1" cy="457.8" r="2.1" fill="#8f8f8f"/><circle cx="229.8" cy="476.2" r="1.1" fill="#898989"/><circle cx="246.3" cy="499.2" r="2.6" fill="#989898"/><circle cx="190.5" cy="423.6" r="1.2" fill="#8c8c8c"/><circle cx="230.7" cy="471" r="2.4" fill="#999999"/><circle cx="208.4" cy="468.9" r="1.2" fill="#909090"/><circle cx="219.5" cy="461.8" r="1.5" fill="#999999"/><circle cx="234.7" cy="445.1" r="1.6" fill="#949494"/><circle cx="229.3" cy="414.6" r="1.1" fill="#8c8c8c"/><circle cx="261.1" cy="426.9" r="1.8" fill="#8e8e8e"/><circle cx="244" cy="500.7" r="2.3" fill="#929292"/><circle cx="242.9" cy="445.4" r="1.5" fill="#989898"/><circle cx="248.2" cy="422.1" r="1.6" fill="#8a8a8a"/><circle cx="246.3" cy="481" r="2" fill="#909090"/><circle cx="227.2" cy="512.9" r="2.1" fill="#8f8f8f"/><circle cx="229.1" cy="485.3" r="2.4" fill="#898989"/><circle cx="224.5" cy="502.5" r="2.1" fill="#989898"/><circle cx="201.4" cy="491.1" r="1.5" fill="#989898"/><circle cx="213.7" cy="469.5" r="2" fill="#9a9a9a"/><circle cx="274.8" cy="435.4" r="1.9" fill="#919191"/><circle cx="269.5" cy="436.5" r="1.7" fill="#888888"/><circle cx="249.5" cy="444.9" r="2.2" fill="#888888"/><circle cx="282.3" cy="470.1" r="2.2" fill="#8e8e8e"/><circle cx="210.2" cy="483.8" r="1.8" fill="#929292"/><circle cx="251.9" cy="500" r="1.3" fill="#898989"/><circle cx="187.8" cy="406.4" r="1.4" fill="#8a8a8a"/><circle cx="213.5" cy="460.2" r="2.2" fill="#909090"/><circle cx="225.9" cy="481" r="1.2" fill="#8f8f8f"/><circle cx="212.9" cy="440.6" r="2.1" fill="#898989"/><circle cx="223.2" cy="427.5" r="1.4" fill="#888888"/><circle cx="250.7" cy="504" r="2" fill="#8b8b8b"/><circle cx="264.4" cy="446" r="1.9" fill="#8c8c8c"/><circle cx="239.6" cy="441.1" r="1.4" fill="#919191"/><circle cx="239.5" cy="476.2" r="1.7" fill="#8d8d8d"/><circle cx="214.3" cy="487.1" r="1.9" fill="#989898"/><circle cx="228.1" cy="479.7" r="2" fill="#8e8e8e"/><circle cx="217.3" cy="453.5" r="1.2" fill="#969696"/><circle cx="223.1" cy="509.7" r="1.4" fill="#909090"/><circle cx="222.2" cy="409" r="1.3" fill="#888888"/><circle cx="261.3" cy="480.4" r="2.5" fill="#888888"/><circle cx="165.4" cy="457.4" r="2.6" fill="#919191"/><circle cx="195.1" cy="413.3" r="1.3" fill="#8f8f8f"/><circle cx="162.4" cy="454.9" r="2.5" fill="#8f8f8f"/><circle cx="241.3" cy="499.5" r="2.5" fill="#909090"/><circle cx="206.5" cy="413.7" r="1.6" fill="#929292"/><circle cx="176.4" cy="462.3" r="1.8" fill="#8e8e8e"/><circle cx="190.1" cy="485.4" r="2.2" fill="#9a9a9a"/><circle cx="194.9" cy="508.8" r="1.5" fill="#909090"/><circle cx="225.7" cy="402.4" r="1.5" fill="#8a8a8a"/><circle cx="234.3" cy="421.5" r="2.3" fill="#979797"/><circle cx="252.3" cy="409.6" r="2.2" fill="#888888"/><circle cx="213.8" cy="509" r="2.1" fill="#949494"/><circle cx="181.6" cy="453" r="1.5" fill="#919191"/><circle cx="233.3" cy="440.5" r="2.3" fill="#919191"/><circle cx="233.9" cy="412.8" r="1.3" fill="#8f8f8f"/><circle cx="279.6" cy="442.7" r="1.5" fill="#9a9a9a"/><circle cx="273.4" cy="439.5" r="1.9" fill="#898989"/><circle cx="220.7" cy="477" r="1.2" fill="#939393"/><circle cx="252.1" cy="510.9" r="2" fill="#969696"/><circle cx="210.3" cy="481.4" r="2.2" fill="#9a9a9a"/><circle cx="194.9" cy="496.6" r="2.5" fill="#949494"/><circle cx="239.5" cy="508.4" r="2.5" fill="#939393"/><circle cx="282" cy="448.3" r="1.4" fill="#8f8f8f"/><circle cx="217.7" cy="506.5" r="2.3" fill="#898989"/><circle cx="252.9" cy="418.6" r="1.2" fill="#949494"/><circle cx="182.9" cy="433.9" r="1.9" fill="#909090"/><circle cx="185" cy="444.5" r="2.2" fill="#888888"/><circle cx="224.3" cy="503" r="2" fill="#979797"/><circle cx="258.3" cy="443.1" r="1.8" fill="#9a9a9a"/><circle cx="249.8" cy="416.1" r="2.6" fill="#8c8c8c"/><circle cx="198.8" cy="497.8" r="2.5" fill="#898989"/><circle cx="207.8" cy="405" r="2.6" fill="#8e8e8e"/><circle cx="260.2" cy="443.7" r="1.2" fill="#8f8f8f"/><circle cx="235.9" cy="404.8" r="1.2" fill="#989898"/><circle cx="174.4" cy="451" r="2" fill="#888888"/><circle cx="223.6" cy="490.5" r="1.7" fill="#9a9a9a"/><circle cx="250.2" cy="451.8" r="2" fill="#909090"/><circle cx="210.2" cy="471.5" r="2.5" fill="#888888"/><circle cx="216.8" cy="439.3" r="1.6" fill="#909090"/><circle cx="233.2" cy="501.6" r="1.5" fill="#999999"/><circle cx="213.6" cy="512.8" r="2.4" fill="#959595"/><circle cx="195.4" cy="412.7" r="2.4" fill="#909090"/><circle cx="230.6" cy="447.8" r="2.5" fill="#888888"/><circle cx="262.4" cy="432.9" r="2.3" fill="#969696"/><circle cx="250.4" cy="443.2" r="2.1" fill="#8f8f8f"/><circle cx="235.4" cy="484.4" r="1.3" fill="#999999"/><circle cx="185.7" cy="444.3" r="1.6" fill="#969696"/><circle cx="216.6" cy="414.1" r="2.3" fill="#969696"/><circle cx="236.2" cy="516.1" r="1.3" fill="#8e8e8e"/><circle cx="240" cy="450.7" r="1.1" fill="#939393"/><circle cx="236.3" cy="451.2" r="1.3" fill="#919191"/><circle cx="241" cy="426" r="2.5" fill="#8a8a8a"/><circle cx="174.4" cy="421.6" r="1.3" fill="#939393"/><circle cx="221" cy="457.4" r="1.2" fill="#8f8f8f"/><circle cx="282.6" cy="456.2" r="1.3" fill="#888888"/><circle cx="266.6" cy="478.5" r="1.3" fill="#939393"/><circle cx="182.7" cy="437.7" r="1.6" fill="#949494"/><circle cx="222.4" cy="449.3" r="2.3" fill="#959595"/><circle cx="253.4" cy="459.4" r="1.2" fill="#969696"/><circle cx="162.4" cy="441.6" r="2.1" fill="#979797"/><circle cx="219.5" cy="428" r="1.3" fill="#939393"/><circle cx="246.3" cy="425.9" r="2.1" fill="#8e8e8e"/><circle cx="272.4" cy="444.5" r="1.1" fill="#909090"/><circle cx="239.1" cy="449.4" r="1.5" fill="#8a8a8a"/><circle cx="160.7" cy="460.9" r="2.1" fill="#8a8a8a"/><circle cx="188.8" cy="418.5" r="1.7" fill="#8c8c8c"/><circle cx="256.4" cy="416.4" r="1.8" fill="#959595"/><circle cx="229.9" cy="492.3" r="1.6" fill="#898989"/><circle cx="197.2" cy="451" r="1.7" fill="#989898"/><circle cx="269" cy="458.8" r="1.4" fill="#989898"/><circle cx="249.4" cy="420.4" r="2.4" fill="#888888"/><circle cx="194.7" cy="511.4" r="2" fill="#929292"/><circle cx="220" cy="449.6" r="1.3" fill="#8d8d8d"/><circle cx="218.5" cy="447.9" r="2.3" fill="#8e8e8e"/><circle cx="203.6" cy="400.8" r="1.1" fill="#939393"/><circle cx="242.1" cy="434.4" r="1.4" fill="#8c8c8c"/><circle cx="168.4" cy="466.6" r="1.1" fill="#909090"/><circle cx="239" cy="450.4" r="2.5" fill="#8d8d8d"/><circle cx="246.8" cy="504.3" r="2.1" fill="#8c8c8c"/><circle cx="252.3" cy="472.8" r="2.1" fill="#999999"/><circle cx="219.8" cy="419.4" r="1.6" fill="#929292"/><circle cx="233.3" cy="457.6" r="1.7" fill="#969696"/><circle cx="218.3" cy="510.9" r="1.7" fill="#999999"/><circle cx="265.6" cy="498.2" r="1.5" fill="#959595"/><circle cx="269.1" cy="469.4" r="1.2" fill="#9a9a9a"/><circle cx="256.1" cy="410.5" r="2.3" fill="#8d8d8d"/><circle cx="218.7" cy="409.6" r="1.5" fill="#959595"/><circle cx="243.8" cy="444.4" r="1.6" fill="#8d8d8d"/><circle cx="187" cy="462.3" r="1.9" fill="#919191"/><circle cx="221.3" cy="436.4" r="1.4" fill="#999999"/><circle cx="178" cy="493.3" r="2.3" fill="#969696"/><circle cx="239" cy="510.7" r="2" fill="#898989"/><circle cx="245.2" cy="446.3" r="1.6" fill="#989898"/><circle cx="247.4" cy="456" r="1.2" fill="#989898"/><circle cx="262.2" cy="437.6" r="1.1" fill="#8e8e8e"/><circle cx="242.8" cy="417.2" r="1.8" fill="#888888"/><circle cx="267" cy="483" r="1.3" fill="#969696"/><circle cx="253.4" cy="496.5" r="1.2" fill="#959595"/><circle cx="193.9" cy="512.9" r="1.6" fill="#969696"/><circle cx="209.7" cy="434.9" r="1.7" fill="#888888"/><circle cx="241.8" cy="459.3" r="2" fill="#959595"/><circle cx="263.1" cy="448.8" r="1.9" fill="#939393"/><circle cx="191.4" cy="512.1" r="2.4" fill="#949494"/><circle cx="178.8" cy="428.9" r="2.1" fill="#989898"/><circle cx="192.9" cy="486.9" r="1.4" fill="#8a8a8a"/><circle cx="188.2" cy="443" r="2.1" fill="#8e8e8e"/><circle cx="234.1" cy="487.6" r="2" fill="#9a9a9a"/><circle cx="213.1" cy="488.4" r="1.6" fill="#8a8a8a"/><circle cx="202.5" cy="482.5" r="1.9" fill="#888888"/><circle cx="231.3" cy="413.6" r="2" fill="#909090"/><circle cx="186.7" cy="499.2" r="1.4" fill="#939393"/><circle cx="253.6" cy="432.3" r="1.7" fill="#979797"/><circle cx="182.8" cy="483.8" r="2.2" fill="#909090"/><circle cx="278.8" cy="443.1" r="1.8" fill="#898989"/><circle cx="274.6" cy="433" r="2.2" fill="#979797"/><circle cx="214.4" cy="421.8" r="1.6" fill="#939393"/><circle cx="201" cy="443.7" r="2.4" fill="#888888"/><circle cx="216.7" cy="464.6" r="2.2" fill="#8a8a8a"/><circle cx="254" cy="431.5" r="1.7" fill="#919191"/><circle cx="211.3" cy="401.7" r="1.5" fill="#898989"/><circle cx="175.8" cy="455.3" r="2.2" fill="#919191"/><circle cx="229.6" cy="398" r="2.5" fill="#898989"/><circle cx="253.2" cy="504.8" r="1.4" fill="#898989"/><circle cx="244.3" cy="472.6" r="1.4" fill="#8f8f8f"/><circle cx="247.6" cy="418.9" r="1.2" fill="#9a9a9a"/><circle cx="194.9" cy="494.1" r="2.4" fill="#8f8f8f"/><circle cx="190.5" cy="468.9" r="1.6" fill="#9a9a9a"/><circle cx="200.6" cy="503.3" r="1.7" fill="#979797"/><circle cx="190.2" cy="427.3" r="1.6" fill="#929292"/><circle cx="188.4" cy="452.4" r="1.2" fill="#8f8f8f"/><circle cx="229.8" cy="435.4" r="1.9" fill="#8d8d8d"/><circle cx="192.5" cy="485.5" r="2.6" fill="#898989"/><circle cx="267.5" cy="452" r="2.3" fill="#8a8a8a"/><circle cx="227.2" cy="453.1" r="2" fill="#989898"/><circle cx="265.3" cy="429.4" r="2" fill="#8d8d8d"/><circle cx="214.1" cy="515.2" r="1.8" fill="#8c8c8c"/><circle cx="222.9" cy="430.1" r="1.7" fill="#999999"/><circle cx="190.9" cy="449.5" r="2.4" fill="#8c8c8c"/><circle cx="168.3" cy="434.1" r="1.2" fill="#888888"/><circle cx="173.8" cy="433.4" r="2.2" fill="#999999"/><circle cx="237.6" cy="432.9" r="2.3" fill="#949494"/><circle cx="272.1" cy="464" r="1.7" fill="#979797"/><circle cx="192.3" cy="479.1" r="1.6" fill="#898989"/><circle cx="275.3" cy="434.4" r="2.1" fill="#888888"/><circle cx="266.1" cy="489.3" r="2.2" fill="#979797"/><circle cx="231.1" cy="410.2" r="2.5" fill="#929292"/><circle cx="244.2" cy="507.8" r="2.3" fill="#8c8c8c"/><circle cx="218.3" cy="423.9" r="2" fill="#999999"/><circle cx="263.2" cy="480.3" r="2.4" fill="#959595"/><circle cx="255.3" cy="494.6" r="2.5" fill="#8e8e8e"/><circle cx="241.7" cy="459.2" r="1.9" fill="#939393"/><circle cx="257.8" cy="432.2" r="1.2" fill="#8d8d8d"/><circle cx="241.7" cy="464.8" r="2.3" fill="#8e8e8e"/><circle cx="247.6" cy="458.9" r="1.8" fill="#939393"/><circle cx="221.7" cy="469" r="1.3" fill="#909090"/><circle cx="185.8" cy="407.7" r="2.1" fill="#8f8f8f"/><circle cx="202.4" cy="480.3" r="2.5" fill="#929292"/><circle cx="173.2" cy="439.5" r="2" fill="#969696"/><circle cx="271.6" cy="482" r="1.5" fill="#8f8f8f"/><circle cx="193.4" cy="429.5" r="2.5" fill="#999999"/><circle cx="201" cy="445.5" r="1.2" fill="#8c8c8c"/><circle cx="242.6" cy="467.8" r="1.9" fill="#8b8b8b"/><circle cx="201.5" cy="500.5" r="2.6" fill="#949494"/><circle cx="211.8" cy="469.9" r="2.3" fill="#8a8a8a"/><circle cx="197.1" cy="486.9" r="2" fill="#8d8d8d"/><circle cx="223.7" cy="469.2" r="1.2" fill="#8b8b8b"/><circle cx="243.2" cy="423.8" r="1.9" fill="#8a8a8a"/><circle cx="270.4" cy="470.5" r="1.9" fill="#909090"/><circle cx="277.4" cy="448.7" r="1.8" fill="#898989"/><circle cx="191.2" cy="414.6" r="1.3" fill="#959595"/><circle cx="233.2" cy="488.6" r="1.5" fill="#909090"/><circle cx="192.4" cy="403.6" r="2.4" fill="#8a8a8a"/><circle cx="280.3" cy="470" r="1.2" fill="#949494"/><circle cx="255.3" cy="490.9" r="1.9" fill="#8b8b8b"/><circle cx="221.2" cy="455.6" r="2.3" fill="#8d8d8d"/><circle cx="246.7" cy="438.5" r="1.2" fill="#8e8e8e"/><circle cx="230.6" cy="446" r="1.2" fill="#969696"/><circle cx="215.3" cy="410" r="1.6" fill="#8f8f8f"/><circle cx="268.9" cy="420.8" r="1.9" fill="#979797"/><circle cx="260.5" cy="504.6" r="1.4" fill="#898989"/><circle cx="239.2" cy="501.8" r="1.9" fill="#979797"/><circle cx="220.6" cy="412.8" r="1.2" fill="#8e8e8e"/><circle cx="218.1" cy="497.5" r="2" fill="#919191"/><circle cx="190.3" cy="475.2" r="1.4" fill="#9a9a9a"/><circle cx="208.6" cy="496.1" r="2.4" fill="#919191"/><circle cx="219.6" cy="473.8" r="1.8" fill="#979797"/><circle cx="189.7" cy="491.6" r="2.5" fill="#8a8a8a"/><circle cx="250.7" cy="448.7" r="1.9" fill="#8c8c8c"/><circle cx="220.2" cy="405.9" r="2.2" fill="#909090"/><circle cx="275.2" cy="433.7" r="2.2" fill="#888888"/><circle cx="256.5" cy="502.7" r="2.3" fill="#9a9a9a"/><circle cx="181.7" cy="467.5" r="2.5" fill="#8c8c8c"/><circle cx="201.2" cy="491" r="1.1" fill="#979797"/><circle cx="241.3" cy="448.8" r="1.9" fill="#949494"/><circle cx="198.7" cy="416.1" r="2.4" fill="#959595"/><circle cx="275.9" cy="433.2" r="1.8" fill="#999999"/><circle cx="280.3" cy="458.7" r="1.8" fill="#969696"/><circle cx="172.3" cy="430.6" r="2.2" fill="#999999"/><circle cx="192.7" cy="457.3" r="1.5" fill="#969696"/><circle cx="243.2" cy="420.8" r="2.5" fill="#888888"/><circle cx="205.1" cy="432.4" r="1.2" fill="#919191"/><circle cx="171.2" cy="439.4" r="2.1" fill="#8f8f8f"/><circle cx="249" cy="461.7" r="2.3" fill="#8d8d8d"/><circle cx="210.8" cy="448.4" r="2.6" fill="#8f8f8f"/><circle cx="271.2" cy="446.2" r="2.2" fill="#888888"/><circle cx="270.7" cy="471.8" r="2.4" fill="#8d8d8d"/><circle cx="280.9" cy="471.1" r="1.6" fill="#8a8a8a"/><circle cx="175.6" cy="428" r="1.3" fill="#8c8c8c"/><circle cx="180.1" cy="418.7" r="1.2" fill="#888888"/><circle cx="233.7" cy="405" r="2.6" fill="#939393"/><circle cx="181.9" cy="416.2" r="1.3" fill="#969696"/><circle cx="224.7" cy="505.8" r="1.5" fill="#949494"/><circle cx="187.4" cy="462.6" r="1.4" fill="#9a9a9a"/><circle cx="214.3" cy="434.2" r="1.6" fill="#8d8d8d"/><circle cx="200.9" cy="469.1" r="1.9" fill="#949494"/><circle cx="270.7" cy="459.3" r="1.9" fill="#8c8c8c"/><circle cx="256.5" cy="420.2" r="1.3" fill="#919191"/><circle cx="181.8" cy="504.9" r="2.5" fill="#999999"/><circle cx="198.6" cy="458.7" r="1.8" fill="#8d8d8d"/><circle cx="238.1" cy="493.6" r="2.5" fill="#959595"/><circle cx="186.8" cy="470.6" r="1.2" fill="#909090"/><circle cx="262.8" cy="441.6" r="1.2" fill="#919191"/><circle cx="191.9" cy="411.3" r="2.2" fill="#8d8d8d"/><circle cx="225.5" cy="448.8" r="2" fill="#969696"/><circle cx="279.1" cy="447.5" r="2.5" fill="#999999"/><circle cx="199.1" cy="449.6" r="1.1" fill="#8b8b8b"/><circle cx="241.5" cy="406" r="1.1" fill="#969696"/><circle cx="189" cy="456.8" r="2" fill="#8f8f8f"/><circle cx="262.6" cy="470.7" r="2" fill="#999999"/><circle cx="219.2" cy="511.7" r="2.3" fill="#989898"/><circle cx="207.7" cy="441.2" r="1.8" fill="#949494"/><circle cx="204.2" cy="452.4" r="1.4" fill="#989898"/><circle cx="235.3" cy="428.1" r="1.7" fill="#919191"/><circle cx="233.8" cy="491.3" r="1.6" fill="#939393"/><circle cx="227.6" cy="445.7" r="1.6" fill="#989898"/><circle cx="248.1" cy="514.2" r="2.2" fill="#999999"/><circle cx="174" cy="439.6" r="1.4" fill="#8b8b8b"/><circle cx="246.3" cy="446.9" r="2" fill="#969696"/><circle cx="193.1" cy="437.6" r="2.1" fill="#979797"/><circle cx="245.1" cy="459.4" r="1.6" fill="#898989"/><circle cx="213.4" cy="454.9" r="2.5" fill="#8e8e8e"/><circle cx="196" cy="467.8" r="2" fill="#888888"/><circle cx="278.3" cy="443.8" r="1.7" fill="#898989"/><circle cx="198.2" cy="410.5" r="1.8" fill="#898989"/><circle cx="237.4" cy="507.2" r="2.5" fill="#8e8e8e"/><circle cx="218.7" cy="426.2" r="1.6" fill="#8a8a8a"/><circle cx="219.3" cy="474.6" r="2.4" fill="#9a9a9a"/><circle cx="251.8" cy="494.7" r="1.5" fill="#888888"/><circle cx="240.6" cy="472.6" r="1.2" fill="#939393"/><circle cx="202" cy="434.2" r="1.4" fill="#8a8a8a"/><circle cx="277.6" cy="464.8" r="2.3" fill="#989898"/><circle cx="236.8" cy="426.1" r="2.3" fill="#9a9a9a"/><circle cx="244.5" cy="479.3" r="2.6" fill="#959595"/><circle cx="223.8" cy="470.9" r="2.5" fill="#8c8c8c"/><circle cx="174.1" cy="480.2" r="2.1" fill="#8f8f8f"/><circle cx="214.9" cy="417.1" r="2" fill="#8d8d8d"/><circle cx="189.1" cy="458.5" r="1.2" fill="#929292"/><circle cx="250.7" cy="464.4" r="1.8" fill="#888888"/><circle cx="182.2" cy="498.7" r="2.2" fill="#8c8c8c"/><circle cx="272.3" cy="464.5" r="2.4" fill="#939393"/><circle cx="221.8" cy="489.3" r="1.6" fill="#8f8f8f"/><circle cx="220.5" cy="427" r="1.8" fill="#9a9a9a"/><circle cx="200.4" cy="443.5" r="2" fill="#8c8c8c"/><circle cx="188.1" cy="409.6" r="1.8" fill="#898989"/><circle cx="196.6" cy="426.4" r="2.5" fill="#8c8c8c"/><circle cx="182.9" cy="426.2" r="1.5" fill="#989898"/><circle cx="270.7" cy="456.4" r="2.5" fill="#969696"/><circle cx="278.8" cy="473.1" r="1.9" fill="#959595"/><circle cx="172.6" cy="490.6" r="1.8" fill="#989898"/><circle cx="185.1" cy="409.1" r="1.2" fill="#989898"/><circle cx="226.3" cy="407.6" r="1.2" fill="#949494"/><circle cx="182.4" cy="436.4" r="2.6" fill="#969696"/><circle cx="192.6" cy="435.8" r="1.8" fill="#8f8f8f"/><circle cx="254.2" cy="413.2" r="1.4" fill="#898989"/><circle cx="183.4" cy="446.3" r="2.4" fill="#999999"/><circle cx="238.7" cy="412.8" r="2" fill="#9a9a9a"/><circle cx="276.5" cy="465.9" r="2" fill="#9a9a9a"/><circle cx="220.5" cy="432.5" r="2.3" fill="#8c8c8c"/><circle cx="197.8" cy="409.7" r="2.3" fill="#8e8e8e"/><circle cx="233.3" cy="424" r="2" fill="#888888"/><circle cx="272.3" cy="456.8" r="2.3" fill="#919191"/><circle cx="219" cy="402.3" r="1.9" fill="#929292"/><circle cx="194.7" cy="484.6" r="1.5" fill="#9a9a9a"/><circle cx="179.1" cy="416.8" r="1.2" fill="#909090"/><circle cx="272.6" cy="458.7" r="2.4" fill="#8f8f8f"/><circle cx="217.9" cy="452.8" r="2.4" fill="#8e8e8e"/><circle cx="207.2" cy="467" r="1.7" fill="#929292"/><circle cx="183.6" cy="442" r="2.1" fill="#939393"/><circle cx="175.5" cy="430.5" r="1.2" fill="#9a9a9a"/><circle cx="216.7" cy="456.8" r="2.5" fill="#8a8a8a"/><circle cx="203.1" cy="407.9" r="1.9" fill="#898989"/><circle cx="257.5" cy="494.4" r="1.9" fill="#8b8b8b"/><circle cx="175.4" cy="456.3" r="1.4" fill="#989898"/><circle cx="263" cy="473.2" r="2.3" fill="#969696"/><circle cx="216.6" cy="415.3" r="2.4" fill="#919191"/><circle cx="178.2" cy="430.2" r="2.3" fill="#999999"/><circle cx="199.8" cy="441" r="2.5" fill="#909090"/><circle cx="212.4" cy="470" r="2.5" fill="#8a8a8a"/><circle cx="199" cy="407.3" r="1.8" fill="#8a8a8a"/><circle cx="207.6" cy="443.1" r="1.1" fill="#9a9a9a"/><circle cx="165.2" cy="454.8" r="1.7" fill="#898989"/><circle cx="198.6" cy="459.1" r="2" fill="#959595"/><circle cx="181.5" cy="424.5" r="1.8" fill="#949494"/><circle cx="167.4" cy="462.2" r="2.6" fill="#8d8d8d"/><circle cx="255.7" cy="451" r="2.2" fill="#929292"/><circle cx="236.3" cy="458.1" r="2.2" fill="#898989"/><circle cx="179.8" cy="428.9" r="1.3" fill="#979797"/><circle cx="203.9" cy="448.5" r="2.4" fill="#8b8b8b"/><circle cx="193.1" cy="428" r="1.5" fill="#8f8f8f"/><circle cx="194.6" cy="501.3" r="2.2" fill="#8e8e8e"/><circle cx="276.1" cy="444.4" r="1.6" fill="#8a8a8a"/><circle cx="245" cy="503.1" r="1.7" fill="#939393"/><circle cx="220.3" cy="508.8" r="1.9" fill="#898989"/><circle cx="251.8" cy="443.7" r="2.3" fill="#9a9a9a"/><circle cx="192.7" cy="442.1" r="2.3" fill="#9a9a9a"/><circle cx="236.2" cy="419" r="1.8" fill="#969696"/><circle cx="203.1" cy="419.3" r="2.3" fill="#929292"/><circle cx="245.7" cy="481.3" r="1.7" fill="#959595"/><circle cx="193.1" cy="450.3" r="1.9" fill="#8d8d8d"/><circle cx="166.7" cy="447.1" r="1.2" fill="#949494"/><circle cx="198.4" cy="490.3" r="1.9" fill="#979797"/><circle cx="242.6" cy="487.6" r="1.8" fill="#8b8b8b"/><circle cx="221.2" cy="398.4" r="1.3" fill="#949494"/><circle cx="196.2" cy="480.9" r="2.3" fill="#888888"/><circle cx="220.5" cy="425.4" r="2.2" fill="#999999"/><circle cx="213.8" cy="495.9" r="1.3" fill="#9a9a9a"/><circle cx="208.6" cy="494.4" r="1.5" fill="#929292"/>
<circle cx="197.3" cy="508.1" r="2.5" fill="#656565"/><circle cx="172" cy="459.3" r="3.1" fill="#747474"/><circle cx="217.9" cy="470.8" r="2.6" fill="#686868"/><circle cx="224.9" cy="456.4" r="3" fill="#6a6a6a"/><circle cx="164.3" cy="439.9" r="1.9" fill="#6d6d6d"/><circle cx="250.3" cy="457.3" r="2.6" fill="#6d6d6d"/><circle cx="230.3" cy="467.6" r="3" fill="#767676"/><circle cx="195.7" cy="431.8" r="1.7" fill="#707070"/><circle cx="264.3" cy="431.9" r="2.9" fill="#737373"/><circle cx="191.9" cy="464.7" r="1.9" fill="#656565"/><circle cx="245.3" cy="514.5" r="2.5" fill="#6b6b6b"/><circle cx="236.5" cy="461.3" r="2.5" fill="#6b6b6b"/><circle cx="207.3" cy="468.2" r="2.3" fill="#747474"/><circle cx="175.5" cy="481.2" r="2.2" fill="#6f6f6f"/><circle cx="176.7" cy="426.8" r="1.6" fill="#646464"/><circle cx="266" cy="416.7" r="3.1" fill="#717171"/><circle cx="274.5" cy="452.8" r="1.7" fill="#6e6e6e"/><circle cx="213.6" cy="513" r="2.1" fill="#747474"/><circle cx="256.7" cy="468.7" r="2.5" fill="#6f6f6f"/><circle cx="206.5" cy="498.2" r="1.7" fill="#696969"/><circle cx="234" cy="420.6" r="2.6" fill="#6e6e6e"/><circle cx="206.5" cy="410.2" r="2.2" fill="#787878"/><circle cx="214.6" cy="452" r="3.2" fill="#646464"/><circle cx="217.4" cy="501.3" r="1.6" fill="#666666"/><circle cx="269.5" cy="458.6" r="3.3" fill="#6e6e6e"/><circle cx="253.3" cy="405.2" r="2.7" fill="#6b6b6b"/><circle cx="222.2" cy="404.1" r="1.9" fill="#646464"/><circle cx="199.2" cy="485" r="2.5" fill="#696969"/><circle cx="229.5" cy="399.2" r="3.3" fill="#676767"/><circle cx="170.4" cy="486.1" r="3.3" fill="#707070"/><circle cx="230.2" cy="402.5" r="2.8" fill="#686868"/><circle cx="215.2" cy="483.6" r="3.2" fill="#6d6d6d"/><circle cx="170.5" cy="444.6" r="2" fill="#656565"/><circle cx="199.6" cy="515.9" r="3.1" fill="#6c6c6c"/><circle cx="240.5" cy="500.8" r="2" fill="#6d6d6d"/><circle cx="226.2" cy="411.3" r="2.6" fill="#727272"/><circle cx="196.8" cy="515" r="2.9" fill="#6b6b6b"/><circle cx="178.1" cy="493.9" r="2.4" fill="#666666"/><circle cx="262.3" cy="481.1" r="3" fill="#6d6d6d"/><circle cx="224.8" cy="457" r="2.5" fill="#646464"/><circle cx="229.7" cy="496.6" r="3.3" fill="#6c6c6c"/><circle cx="249.1" cy="509" r="2.2" fill="#676767"/><circle cx="270.5" cy="443.2" r="2" fill="#676767"/><circle cx="238" cy="470.8" r="2.8" fill="#767676"/><circle cx="231.8" cy="501.9" r="2.6" fill="#6c6c6c"/><circle cx="168.5" cy="472.2" r="3.1" fill="#6d6d6d"/><circle cx="211.7" cy="398.1" r="1.8" fill="#707070"/><circle cx="268.1" cy="482.6" r="1.7" fill="#777777"/><circle cx="184.1" cy="481.7" r="1.8" fill="#666666"/><circle cx="262.3" cy="462.2" r="1.9" fill="#666666"/><circle cx="249.5" cy="499.7" r="2.6" fill="#696969"/><circle cx="181.6" cy="446.9" r="2.6" fill="#707070"/><circle cx="238.7" cy="450.8" r="2.6" fill="#646464"/><circle cx="250.6" cy="429.3" r="1.8" fill="#686868"/><circle cx="202.5" cy="413.1" r="2.6" fill="#666666"/><circle cx="204.2" cy="447.1" r="1.8" fill="#686868"/><circle cx="217.3" cy="479.4" r="2.4" fill="#757575"/><circle cx="184.2" cy="453.7" r="2" fill="#6b6b6b"/><circle cx="210.3" cy="436.2" r="3.2" fill="#727272"/><circle cx="246.5" cy="451.7" r="1.9" fill="#646464"/><circle cx="280.5" cy="440.3" r="3" fill="#717171"/><circle cx="218.2" cy="519.8" r="1.7" fill="#707070"/><circle cx="215.5" cy="499.7" r="3.3" fill="#6a6a6a"/><circle cx="200" cy="412.7" r="2.5" fill="#6c6c6c"/><circle cx="255.9" cy="502.1" r="2.1" fill="#6c6c6c"/>
<circle cx="230.6" cy="474.7" r="0.8" fill="#cacaca"/><circle cx="219.2" cy="505.6" r="0.7" fill="#d2d2d2"/><circle cx="182.7" cy="477.1" r="0.7" fill="#d2d2d2"/><circle cx="199.5" cy="481.5" r="0.6" fill="#cbcbcb"/><circle cx="277.1" cy="475.1" r="0.6" fill="#cbcbcb"/><circle cx="224.1" cy="507.9" r="0.8" fill="#d9d9d9"/><circle cx="243.9" cy="497.5" r="0.5" fill="#cccccc"/><circle cx="228.7" cy="480.8" r="0.5" fill="#c3c3c3"/><circle cx="199.3" cy="506.5" r="0.9" fill="#c4c4c4"/><circle cx="252.9" cy="411.2" r="0.6" fill="#c9c9c9"/><circle cx="223.4" cy="435.8" r="0.6" fill="#d7d7d7"/><circle cx="197.4" cy="445" r="0.5" fill="#c5c5c5"/><circle cx="269" cy="441.3" r="0.7" fill="#d7d7d7"/><circle cx="229.2" cy="411.3" r="0.5" fill="#c5c5c5"/><circle cx="210.6" cy="439.3" r="0.8" fill="#d7d7d7"/><circle cx="241" cy="452.9" r="0.6" fill="#cdcdcd"/><circle cx="233" cy="452.5" r="0.8" fill="#d1d1d1"/><circle cx="168.3" cy="455.9" r="0.6" fill="#dadada"/><circle cx="204.5" cy="479.1" r="0.5" fill="#d3d3d3"/><circle cx="238.6" cy="486" r="0.8" fill="#dcdcdc"/><circle cx="247" cy="416.2" r="0.6" fill="#d5d5d5"/><circle cx="219.7" cy="482" r="0.8" fill="#d9d9d9"/><circle cx="194.6" cy="430.8" r="0.9" fill="#cfcfcf"/><circle cx="192" cy="505.1" r="0.9" fill="#d1d1d1"/><circle cx="207.8" cy="490.5" r="0.6" fill="#cccccc"/><circle cx="273.5" cy="435.7" r="0.9" fill="#d5d5d5"/><circle cx="181" cy="486.1" r="0.6" fill="#cfcfcf"/><circle cx="213.6" cy="496.8" r="0.9" fill="#cdcdcd"/><circle cx="253" cy="469" r="0.7" fill="#d9d9d9"/><circle cx="237.4" cy="485.8" r="0.5" fill="#c4c4c4"/><circle cx="258.8" cy="501.5" r="0.4" fill="#c5c5c5"/><circle cx="184.2" cy="419.4" r="0.9" fill="#c4c4c4"/><circle cx="167.5" cy="480.6" r="0.4" fill="#cfcfcf"/><circle cx="211" cy="510.1" r="0.8" fill="#c6c6c6"/><circle cx="216.4" cy="493.1" r="0.7" fill="#c8c8c8"/><circle cx="258.1" cy="424.3" r="0.5" fill="#cdcdcd"/><circle cx="221.7" cy="434.4" r="0.4" fill="#d7d7d7"/><circle cx="236.6" cy="436.6" r="0.5" fill="#cccccc"/><circle cx="171.7" cy="444.1" r="0.8" fill="#cacaca"/><circle cx="184.8" cy="411.9" r="0.5" fill="#cfcfcf"/><circle cx="225.5" cy="413" r="0.6" fill="#d0d0d0"/><circle cx="216.8" cy="475.5" r="0.5" fill="#c2c2c2"/><circle cx="182.7" cy="487.6" r="0.5" fill="#d5d5d5"/><circle cx="215.5" cy="443.6" r="0.5" fill="#d9d9d9"/><circle cx="193" cy="490.9" r="0.5" fill="#cecece"/><circle cx="239.9" cy="515.1" r="0.6" fill="#dbdbdb"/><circle cx="206.8" cy="502.1" r="0.7" fill="#c6c6c6"/><circle cx="223.8" cy="494.3" r="0.6" fill="#dadada"/><circle cx="169.2" cy="473.6" r="0.5" fill="#c8c8c8"/><circle cx="268.3" cy="497.9" r="0.8" fill="#d8d8d8"/><circle cx="194.9" cy="486.9" r="0.9" fill="#d6d6d6"/><circle cx="213.7" cy="469.1" r="0.8" fill="#cecece"/><circle cx="259.3" cy="451.2" r="0.6" fill="#c5c5c5"/><circle cx="205.5" cy="450.8" r="0.5" fill="#dcdcdc"/><circle cx="207.3" cy="455.3" r="0.5" fill="#cfcfcf"/><circle cx="175.9" cy="425.4" r="0.8" fill="#d2d2d2"/><circle cx="211.1" cy="414.2" r="0.9" fill="#d2d2d2"/><circle cx="225.7" cy="443.6" r="0.7" fill="#dbdbdb"/><circle cx="279.9" cy="450.9" r="0.5" fill="#cbcbcb"/><circle cx="213.4" cy="470.2" r="0.9" fill="#d7d7d7"/><circle cx="188.9" cy="427.5" r="0.6" fill="#d1d1d1"/><circle cx="197.3" cy="498.9" r="0.9" fill="#cbcbcb"/><circle cx="259.7" cy="420.2" r="0.6" fill="#dcdcdc"/><circle cx="213.6" cy="458.4" r="0.6" fill="#d8d8d8"/><circle cx="199" cy="464.1" r="0.5" fill="#dcdcdc"/><circle cx="280.4" cy="469.4" r="0.8" fill="#cacaca"/><circle cx="203.2" cy="431.9" r="0.5" fill="#dbdbdb"/><circle cx="223.7" cy="421.6" r="0.8" fill="#cbcbcb"/><circle cx="167.3" cy="447.9" r="0.6" fill="#c5c5c5"/><circle cx="213.4" cy="459.5" r="0.6" fill="#cacaca"/><circle cx="203.2" cy="515.7" r="0.7" fill="#d3d3d3"/><circle cx="228" cy="487.9" r="0.7" fill="#cacaca"/><circle cx="215.4" cy="433.7" r="0.6" fill="#d5d5d5"/><circle cx="201.1" cy="418.2" r="0.9" fill="#d8d8d8"/><circle cx="197.8" cy="485.3" r="0.6" fill="#dbdbdb"/><circle cx="205.9" cy="433.5" r="0.5" fill="#cccccc"/><circle cx="211.2" cy="487.1" r="0.8" fill="#c7c7c7"/><circle cx="241.4" cy="447.2" r="0.5" fill="#d6d6d6"/><circle cx="267.6" cy="469.7" r="0.6" fill="#c8c8c8"/><circle cx="243.9" cy="456.9" r="0.5" fill="#d5d5d5"/><circle cx="238.3" cy="419.8" r="0.6" fill="#d9d9d9"/><circle cx="194.1" cy="472.3" r="0.6" fill="#d9d9d9"/><circle cx="202.7" cy="513.1" r="0.5" fill="#d7d7d7"/><circle cx="180.9" cy="413.4" r="0.7" fill="#d3d3d3"/><circle cx="238" cy="476.7" r="0.7" fill="#d8d8d8"/><circle cx="272.2" cy="469.7" r="0.7" fill="#cfcfcf"/><circle cx="206.9" cy="495.9" r="0.6" fill="#dcdcdc"/><circle cx="215.5" cy="406.9" r="0.5" fill="#c6c6c6"/><circle cx="245.8" cy="458" r="0.5" fill="#d6d6d6"/><circle cx="199.4" cy="499.4" r="0.8" fill="#d2d2d2"/><circle cx="253.8" cy="509.2" r="0.5" fill="#c6c6c6"/><circle cx="184.9" cy="436" r="0.9" fill="#dbdbdb"/><circle cx="190.4" cy="494.5" r="0.4" fill="#c8c8c8"/><circle cx="187.6" cy="445.5" r="0.6" fill="#c4c4c4"/><circle cx="245.2" cy="440.7" r="0.6" fill="#d2d2d2"/><circle cx="222.6" cy="403.8" r="0.8" fill="#c6c6c6"/><circle cx="241.3" cy="420.4" r="0.5" fill="#c5c5c5"/><circle cx="240.6" cy="447.1" r="0.8" fill="#d8d8d8"/><circle cx="241.7" cy="484.9" r="0.4" fill="#d3d3d3"/><circle cx="208.4" cy="427.8" r="0.6" fill="#cdcdcd"/><circle cx="187.2" cy="410.1" r="0.6" fill="#c7c7c7"/><circle cx="172" cy="483.3" r="0.6" fill="#cacaca"/><circle cx="162.8" cy="462.1" r="0.5" fill="#d1d1d1"/><circle cx="212.9" cy="490.8" r="0.6" fill="#cacaca"/><circle cx="257" cy="457.3" r="0.4" fill="#cecece"/><circle cx="281.2" cy="470.1" r="0.8" fill="#d2d2d2"/><circle cx="247" cy="497.9" r="0.9" fill="#c7c7c7"/><circle cx="268.3" cy="438.3" r="0.6" fill="#d5d5d5"/><circle cx="197.2" cy="434.5" r="0.6" fill="#dadada"/><circle cx="185.1" cy="419" r="0.7" fill="#cbcbcb"/><circle cx="233.3" cy="445.2" r="0.7" fill="#c9c9c9"/><circle cx="187.4" cy="481.2" r="0.4" fill="#c9c9c9"/><circle cx="227" cy="502.3" r="0.7" fill="#d2d2d2"/><circle cx="261.9" cy="478.1" r="0.8" fill="#dcdcdc"/><circle cx="232.2" cy="424" r="0.5" fill="#c2c2c2"/><circle cx="261.7" cy="476.4" r="0.9" fill="#dbdbdb"/><circle cx="202.5" cy="472.5" r="0.7" fill="#dcdcdc"/><circle cx="160.4" cy="451.6" r="0.9" fill="#c6c6c6"/><circle cx="185.2" cy="492.3" r="0.6" fill="#cccccc"/><circle cx="253.7" cy="510.5" r="0.6" fill="#cacaca"/><circle cx="270.2" cy="429.8" r="0.7" fill="#d8d8d8"/><circle cx="176" cy="449.5" r="0.9" fill="#c7c7c7"/><circle cx="166.3" cy="458.2" r="0.4" fill="#d8d8d8"/><circle cx="269.5" cy="455.6" r="0.4" fill="#dbdbdb"/><circle cx="252.7" cy="407.9" r="0.6" fill="#d9d9d9"/><circle cx="200.6" cy="452.5" r="0.6" fill="#d7d7d7"/><circle cx="236.5" cy="413" r="0.8" fill="#d2d2d2"/><circle cx="245.6" cy="444.6" r="0.7" fill="#d4d4d4"/><circle cx="255.8" cy="453.9" r="0.8" fill="#d0d0d0"/><circle cx="229.9" cy="515.7" r="0.8" fill="#d3d3d3"/><circle cx="221.3" cy="445.5" r="0.7" fill="#c4c4c4"/><circle cx="251" cy="412.2" r="0.7" fill="#c8c8c8"/><circle cx="271.9" cy="442.2" r="0.9" fill="#d8d8d8"/><circle cx="180.2" cy="463.8" r="0.6" fill="#cecece"/><circle cx="170.2" cy="438.2" r="0.5" fill="#dcdcdc"/><circle cx="210.6" cy="470.8" r="0.6" fill="#dbdbdb"/><circle cx="202.5" cy="514.4" r="0.8" fill="#c5c5c5"/><circle cx="205" cy="419.4" r="0.6" fill="#cecece"/><circle cx="199.7" cy="434.6" r="0.7" fill="#dadada"/><circle cx="180.6" cy="494.8" r="0.7" fill="#c3c3c3"/><circle cx="175.9" cy="487.9" r="0.8" fill="#cecece"/><circle cx="224.7" cy="516.9" r="0.5" fill="#dadada"/><circle cx="254.2" cy="490.1" r="0.8" fill="#c3c3c3"/><circle cx="210.9" cy="413.9" r="0.8" fill="#dbdbdb"/><circle cx="193.2" cy="476.6" r="0.5" fill="#d7d7d7"/><circle cx="234.5" cy="493.1" r="0.6" fill="#d8d8d8"/><circle cx="204.7" cy="458" r="0.9" fill="#c8c8c8"/><circle cx="177" cy="469.8" r="0.8" fill="#cecece"/><circle cx="249.1" cy="427.9" r="0.5" fill="#dadada"/><circle cx="208.1" cy="447.5" r="0.5" fill="#d5d5d5"/><circle cx="188.9" cy="489.5" r="0.4" fill="#c4c4c4"/><circle cx="272.9" cy="430.2" r="0.5" fill="#dadada"/><circle cx="280" cy="455.9" r="0.8" fill="#d3d3d3"/><circle cx="184.5" cy="474.8" r="0.5" fill="#dcdcdc"/><circle cx="243.1" cy="405.4" r="0.8" fill="#c9c9c9"/><circle cx="247.2" cy="434.6" r="0.6" fill="#d4d4d4"/><circle cx="207.9" cy="444.7" r="0.9" fill="#dadada"/><circle cx="259.8" cy="417.6" r="0.8" fill="#d0d0d0"/><circle cx="174.6" cy="475.3" r="0.8" fill="#d0d0d0"/><circle cx="207.1" cy="401.2" r="0.8" fill="#c9c9c9"/><circle cx="212.4" cy="498.3" r="0.5" fill="#cecece"/><circle cx="217.5" cy="451.9" r="0.8" fill="#cbcbcb"/><circle cx="198.2" cy="403.1" r="0.4" fill="#d3d3d3"/><circle cx="195.1" cy="480.4" r="0.9" fill="#d7d7d7"/><circle cx="189.1" cy="504" r="0.8" fill="#c3c3c3"/><circle cx="220" cy="398.3" r="0.9" fill="#dbdbdb"/><circle cx="250.1" cy="471.4" r="0.9" fill="#c9c9c9"/><circle cx="235.1" cy="492.1" r="0.8" fill="#c2c2c2"/><circle cx="217.2" cy="450.2" r="0.5" fill="#cbcbcb"/><circle cx="250.4" cy="511.5" r="0.8" fill="#cecece"/><circle cx="252" cy="433.6" r="0.8" fill="#cccccc"/><circle cx="171.1" cy="435.6" r="0.8" fill="#d0d0d0"/><circle cx="194" cy="422.9" r="0.4" fill="#d9d9d9"/><circle cx="255.2" cy="443" r="0.6" fill="#c8c8c8"/><circle cx="230.9" cy="469.4" r="0.5" fill="#dbdbdb"/><circle cx="203" cy="504.3" r="0.8" fill="#c8c8c8"/><circle cx="224.8" cy="433.8" r="0.5" fill="#d3d3d3"/><circle cx="179.6" cy="467.7" r="0.8" fill="#d5d5d5"/><circle cx="258.4" cy="409.4" r="0.5" fill="#d6d6d6"/><circle cx="273" cy="445.3" r="0.8" fill="#d7d7d7"/><circle cx="260.2" cy="453.7" r="0.7" fill="#d0d0d0"/><circle cx="208.1" cy="465.7" r="0.8" fill="#d6d6d6"/><circle cx="228.2" cy="430.4" r="0.6" fill="#d7d7d7"/><circle cx="186.8" cy="463.8" r="0.4" fill="#cbcbcb"/><circle cx="224.4" cy="494.9" r="0.8" fill="#d5d5d5"/><circle cx="231" cy="472.5" r="0.5" fill="#d6d6d6"/><circle cx="215.5" cy="442.3" r="0.5" fill="#d1d1d1"/><circle cx="211.3" cy="476.7" r="0.8" fill="#c7c7c7"/><circle cx="197.3" cy="449.9" r="0.6" fill="#cbcbcb"/><circle cx="209.8" cy="494.7" r="0.8" fill="#d8d8d8"/><circle cx="201.5" cy="426.9" r="0.7" fill="#dcdcdc"/><circle cx="206" cy="470.8" r="0.6" fill="#d8d8d8"/><circle cx="178.4" cy="464.7" r="0.4" fill="#cfcfcf"/><circle cx="227.4" cy="451.5" r="0.7" fill="#d6d6d6"/><circle cx="248.2" cy="485.4" r="0.5" fill="#d1d1d1"/><circle cx="260.7" cy="466.2" r="0.7" fill="#dcdcdc"/><circle cx="188.5" cy="429.3" r="0.8" fill="#c8c8c8"/><circle cx="226.1" cy="420.1" r="0.7" fill="#d4d4d4"/><circle cx="233.8" cy="398.3" r="0.6" fill="#cccccc"/><circle cx="178" cy="487.8" r="0.5" fill="#d6d6d6"/><circle cx="231.2" cy="455.3" r="0.8" fill="#d7d7d7"/><circle cx="282.2" cy="454.7" r="0.9" fill="#d4d4d4"/><circle cx="200.9" cy="454.5" r="0.7" fill="#c8c8c8"/><circle cx="196.6" cy="458.8" r="0.7" fill="#d0d0d0"/><circle cx="229.1" cy="460.4" r="0.7" fill="#cecece"/><circle cx="236.7" cy="399.5" r="0.7" fill="#d1d1d1"/><circle cx="281.5" cy="459.5" r="0.5" fill="#c4c4c4"/><circle cx="192.6" cy="414.9" r="0.8" fill="#d0d0d0"/><circle cx="224.1" cy="465.4" r="0.6" fill="#c9c9c9"/><circle cx="255.1" cy="486.2" r="0.5" fill="#c6c6c6"/><circle cx="195.1" cy="507.6" r="0.7" fill="#d7d7d7"/><circle cx="187.6" cy="449.5" r="0.7" fill="#d6d6d6"/><circle cx="281.9" cy="472.5" r="0.7" fill="#c5c5c5"/><circle cx="253.9" cy="423.2" r="0.7" fill="#c6c6c6"/><circle cx="266.8" cy="438.3" r="0.9" fill="#d8d8d8"/><circle cx="186.5" cy="423.9" r="0.6" fill="#cccccc"/><circle cx="254.5" cy="460.5" r="0.6" fill="#dcdcdc"/><circle cx="173.4" cy="474.1" r="0.7" fill="#c9c9c9"/><circle cx="192.5" cy="510.2" r="0.8" fill="#d6d6d6"/><circle cx="179.3" cy="428.1" r="0.5" fill="#c4c4c4"/><circle cx="220.6" cy="508.1" r="0.6" fill="#c4c4c4"/><circle cx="190.6" cy="439.7" r="0.8" fill="#c5c5c5"/><circle cx="168.2" cy="429.3" r="0.4" fill="#d4d4d4"/><circle cx="244.3" cy="411.5" r="0.8" fill="#d7d7d7"/><circle cx="172" cy="468" r="0.8" fill="#c5c5c5"/><circle cx="232.7" cy="482.9" r="0.7" fill="#dbdbdb"/><circle cx="197.8" cy="405.2" r="0.5" fill="#d8d8d8"/><circle cx="240.6" cy="515.6" r="0.7" fill="#c5c5c5"/><circle cx="185.9" cy="422.1" r="0.7" fill="#dcdcdc"/><circle cx="206.2" cy="443.1" r="0.7" fill="#d7d7d7"/><circle cx="194.7" cy="502.8" r="0.4" fill="#cbcbcb"/><circle cx="221" cy="428.2" r="0.8" fill="#c2c2c2"/><circle cx="246.1" cy="477.8" r="0.6" fill="#c9c9c9"/><circle cx="163.2" cy="439.2" r="0.6" fill="#d1d1d1"/><circle cx="241.4" cy="465.6" r="0.8" fill="#c6c6c6"/><circle cx="213.8" cy="512.5" r="0.4" fill="#d9d9d9"/><circle cx="278.7" cy="439.1" r="0.8" fill="#c5c5c5"/><circle cx="215.5" cy="495.2" r="0.8" fill="#d5d5d5"/><circle cx="218.4" cy="416" r="0.6" fill="#cccccc"/><circle cx="240" cy="407.4" r="0.9" fill="#c6c6c6"/><circle cx="188.7" cy="454.3" r="0.5" fill="#dbdbdb"/><circle cx="279.2" cy="436.9" r="0.6" fill="#dadada"/><circle cx="167.8" cy="452.2" r="0.6" fill="#d2d2d2"/><circle cx="219.7" cy="398.8" r="0.5" fill="#c8c8c8"/><circle cx="184.3" cy="429.3" r="0.5" fill="#d6d6d6"/><circle cx="251.5" cy="492.8" r="0.7" fill="#c9c9c9"/><circle cx="256.4" cy="410.7" r="0.5" fill="#d7d7d7"/><circle cx="242.3" cy="432.2" r="0.9" fill="#d5d5d5"/><circle cx="190" cy="495.9" r="0.7" fill="#cacaca"/><circle cx="193.5" cy="481.2" r="0.6" fill="#dbdbdb"/><circle cx="212.4" cy="474.7" r="0.7" fill="#dcdcdc"/><circle cx="242.9" cy="495" r="0.5" fill="#d0d0d0"/><circle cx="201.7" cy="448.9" r="0.6" fill="#c8c8c8"/><circle cx="201" cy="516.2" r="0.8" fill="#cacaca"/><circle cx="187.7" cy="502.2" r="0.5" fill="#c3c3c3"/><circle cx="238.8" cy="457.8" r="0.7" fill="#cccccc"/><circle cx="251.1" cy="468" r="0.8" fill="#d0d0d0"/><circle cx="238.9" cy="491.4" r="0.7" fill="#cbcbcb"/><circle cx="233.7" cy="399.6" r="0.9" fill="#cbcbcb"/><circle cx="242" cy="458.5" r="0.7" fill="#cecece"/>
</g></g>
<line x1="110.3" y1="387.3" x2="133.1" y2="387.3" stroke="#111" stroke-width="1"/>
<text x="121.7" y="392.1" text-anchor="middle" style="font-family:&quot;Liberation Sans&quot;,sans-serif;font-size:3.7px;font-weight:bold;fill:#444;stroke:none" textLength="15.2" lengthAdjust="spacingAndGlyphs">1000 µm</text>
<path fill="#000" d="M216.9 6.6h1.8v1.9h-1.8zM220.4 6.6h1.8v1.9h-1.8zM225.6 6.6h1.8v1.9h-1.8zM229.1 6.6h1.8v1.9h-1.8zM232.6 6.6h3.5v1.9h-3.5zM209.9 8.3h1.8v1.9h-1.8zM222.1 8.3h1.8v1.9h-1.8zM227.4 8.3h3.5v1.9h-3.5zM234.4 8.3h1.8v1.9h-1.8zM201.1 10.1h5.2v1.9h-5.2zM220.4 10.1h1.8v1.9h-1.8zM229.1 10.1h1.8v1.9h-1.8zM232.6 10.1h1.8v1.9h-1.8zM237.9 10.1h1.8v1.9h-1.8zM241.4 10.1h1.8v1.9h-1.8zM215.1 11.8h1.8v1.9h-1.8zM223.9 11.8h1.8v1.9h-1.8zM229.1 11.8h1.8v1.9h-1.8zM232.6 11.8h5.2v1.9h-5.2zM239.6 11.8h3.5v1.9h-3.5zM246.6 11.8h1.8v1.9h-1.8zM206.4 13.6h7v1.9h-7zM216.9 13.6h7v1.9h-7zM234.4 13.6h1.8v1.9h-1.8zM246.6 13.6h1.8v1.9h-1.8zM250.1 13.6h3.5v1.9h-3.5zM255.4 13.6h1.8v1.9h-1.8zM192.4 15.3h7v1.9h-7zM201.1 15.3h1.8v1.9h-1.8zM206.4 15.3h8.8v1.9h-8.8zM218.6 15.3h1.8v1.9h-1.8zM222.1 15.3h7v1.9h-7zM230.9 15.3h3.5v1.9h-3.5zM237.9 15.3h1.8v1.9h-1.8zM241.4 15.3h1.8v1.9h-1.8zM250.1 15.3h1.8v1.9h-1.8zM253.6 15.3h1.8v1.9h-1.8zM192.4 17.1h1.8v1.9h-1.8zM204.6 17.1h1.8v1.9h-1.8zM208.1 17.1h8.8v1.9h-8.8zM220.4 17.1h1.8v1.9h-1.8zM227.4 17.1h8.8v1.9h-8.8zM246.6 17.1h1.8v1.9h-1.8zM257.1 17.1h1.8v1.9h-1.8zM195.9 18.8h5.2v1.9h-5.2zM204.6 18.8h1.8v1.9h-1.8zM211.6 18.8h1.8v1.9h-1.8zM215.1 18.8h3.5v1.9h-3.5zM225.6 18.8h1.8v1.9h-1.8zM230.9 18.8h7v1.9h-7zM239.6 18.8h5.2v1.9h-5.2zM246.6 18.8h1.8v1.9h-1.8zM262.4 18.8h1.8v1.9h-1.8zM185.4 20.6h3.5v1.9h-3.5zM190.6 20.6h1.8v1.9h-1.8zM197.6 20.6h1.8v1.9h-1.8zM204.6 20.6h1.8v1.9h-1.8zM208.1 20.6h3.5v1.9h-3.5zM220.4 20.6h1.8v1.9h-1.8zM229.1 20.6h1.8v1.9h-1.8zM232.6 20.6h1.8v1.9h-1.8zM241.4 20.6h1.8v1.9h-1.8zM248.4 20.6h3.5v1.9h-3.5zM253.6 20.6h5.2v1.9h-5.2zM264.1 20.6h1.8v1.9h-1.8zM183.6 22.3h1.8v1.9h-1.8zM188.9 22.3h1.8v1.9h-1.8zM192.4 22.3h1.8v1.9h-1.8zM199.4 22.3h3.5v1.9h-3.5zM204.6 22.3h5.2v1.9h-5.2zM211.6 22.3h1.8v1.9h-1.8zM215.1 22.3h5.2v1.9h-5.2zM223.9 22.3h1.8v1.9h-1.8zM230.9 22.3h5.2v1.9h-5.2zM237.9 22.3h5.2v1.9h-5.2zM246.6 22.3h3.5v1.9h-3.5zM255.4 22.3h3.5v1.9h-3.5zM262.4 22.3h1.8v1.9h-1.8zM180.1 24.1h1.8v1.9h-1.8zM183.6 24.1h1.8v1.9h-1.8zM188.9 24.1h1.8v1.9h-1.8zM194.1 24.1h3.5v1.9h-3.5zM199.4 24.1h12.2v1.9h-12.2zM213.4 24.1h1.8v1.9h-1.8zM216.9 24.1h8.8v1.9h-8.8zM229.1 24.1h3.5v1.9h-3.5zM234.4 24.1h1.8v1.9h-1.8zM237.9 24.1h1.8v1.9h-1.8zM243.1 24.1h1.8v1.9h-1.8zM250.1 24.1h1.8v1.9h-1.8zM257.1 24.1h8.8v1.9h-8.8zM269.4 24.1h1.8v1.9h-1.8zM178.4 25.8h1.8v1.9h-1.8zM185.4 25.8h12.2v1.9h-12.2zM202.9 25.8h1.8v1.9h-1.8zM206.4 25.8h8.8v1.9h-8.8zM216.9 25.8h1.8v1.9h-1.8zM220.4 25.8h14v1.9h-14zM244.9 25.8h3.5v1.9h-3.5zM250.1 25.8h1.8v1.9h-1.8zM255.4 25.8h1.8v1.9h-1.8zM265.9 25.8h1.8v1.9h-1.8zM187.1 27.6h8.8v1.9h-8.8zM206.4 27.6h1.8v1.9h-1.8zM216.9 27.6h1.8v1.9h-1.8zM220.4 27.6h5.2v1.9h-5.2zM227.4 27.6h1.8v1.9h-1.8zM234.4 27.6h3.5v1.9h-3.5zM244.9 27.6h5.2v1.9h-5.2zM251.9 27.6h1.8v1.9h-1.8zM255.4 27.6h5.2v1.9h-5.2zM265.9 27.6h1.8v1.9h-1.8zM272.9 27.6h1.8v1.9h-1.8zM176.6 29.3h1.8v1.9h-1.8zM181.9 29.3h1.8v1.9h-1.8zM188.9 29.3h5.2v1.9h-5.2zM195.9 29.3h1.8v1.9h-1.8zM199.4 29.3h1.8v1.9h-1.8zM204.6 29.3h1.8v1.9h-1.8zM213.4 29.3h1.8v1.9h-1.8zM218.6 29.3h3.5v1.9h-3.5zM223.9 29.3h8.8v1.9h-8.8zM234.4 29.3h1.8v1.9h-1.8zM239.6 29.3h1.8v1.9h-1.8zM246.6 29.3h5.2v1.9h-5.2zM255.4 29.3h8.8v1.9h-8.8zM265.9 29.3h1.8v1.9h-1.8zM269.4 29.3h3.5v1.9h-3.5zM188.9 31.1h1.8v1.9h-1.8zM192.4 31.1h1.8v1.9h-1.8zM197.6 31.1h3.5v1.9h-3.5zM202.9 31.1h7v1.9h-7zM213.4 31.1h1.8v1.9h-1.8zM216.9 31.1h1.8v1.9h-1.8zM220.4 31.1h7v1.9h-7zM230.9 31.1h1.8v1.9h-1.8zM236.1 31.1h14v1.9h-14zM255.4 31.1h3.5v1.9h-3.5zM260.6 31.1h7v1.9h-7zM269.4 31.1h1.8v1.9h-1.8zM183.6 32.8h3.5v1.9h-3.5zM190.6 32.8h1.8v1.9h-1.8zM194.1 32.8h3.5v1.9h-3.5zM204.6 32.8h5.2v1.9h-5.2zM220.4 32.8h1.8v1.9h-1.8zM223.9 32.8h1.8v1.9h-1.8zM227.4 32.8h1.8v1.9h-1.8zM232.6 32.8h5.2v1.9h-5.2zM241.4 32.8h3.5v1.9h-3.5zM248.4 32.8h3.5v1.9h-3.5zM253.6 32.8h5.2v1.9h-5.2zM264.1 32.8h5.2v1.9h-5.2zM274.6 32.8h1.8v1.9h-1.8zM174.9 34.6h1.8v1.9h-1.8zM180.1 34.6h7v1.9h-7zM188.9 34.6h1.8v1.9h-1.8zM195.9 34.6h1.8v1.9h-1.8zM199.4 34.6h1.8v1.9h-1.8zM202.9 34.6h3.5v1.9h-3.5zM208.1 34.6h1.8v1.9h-1.8zM213.4 34.6h5.2v1.9h-5.2zM222.1 34.6h5.2v1.9h-5.2zM229.1 34.6h7v1.9h-7zM244.9 34.6h3.5v1.9h-3.5zM251.9 34.6h1.8v1.9h-1.8zM255.4 34.6h12.2v1.9h-12.2zM269.4 34.6h1.8v1.9h-1.8zM272.9 34.6h1.8v1.9h-1.8zM171.4 36.3h1.8v1.9h-1.8zM178.4 36.3h3.5v1.9h-3.5zM183.6 36.3h3.5v1.9h-3.5zM190.6 36.3h5.2v1.9h-5.2zM197.6 36.3h1.8v1.9h-1.8zM202.9 36.3h3.5v1.9h-3.5zM209.9 36.3h1.8v1.9h-1.8zM213.4 36.3h5.2v1.9h-5.2zM225.6 36.3h5.2v1.9h-5.2zM234.4 36.3h5.2v1.9h-5.2zM243.1 36.3h1.8v1.9h-1.8zM253.6 36.3h5.2v1.9h-5.2zM260.6 36.3h3.5v1.9h-3.5zM265.9 36.3h5.2v1.9h-5.2zM272.9 36.3h1.8v1.9h-1.8zM167.9 38.1h3.5v1.9h-3.5zM176.6 38.1h3.5v1.9h-3.5zM188.9 38.1h1.8v1.9h-1.8zM192.4 38.1h1.8v1.9h-1.8zM195.9 38.1h1.8v1.9h-1.8zM199.4 38.1h7v1.9h-7zM209.9 38.1h3.5v1.9h-3.5zM216.9 38.1h1.8v1.9h-1.8zM223.9 38.1h3.5v1.9h-3.5zM232.6 38.1h7v1.9h-7zM244.9 38.1h1.8v1.9h-1.8zM248.4 38.1h3.5v1.9h-3.5zM255.4 38.1h1.8v1.9h-1.8zM260.6 38.1h8.8v1.9h-8.8zM272.9 38.1h3.5v1.9h-3.5zM279.9 38.1h1.8v1.9h-1.8zM169.6 39.8h1.8v1.9h-1.8zM174.9 39.8h5.2v1.9h-5.2zM183.6 39.8h3.5v1.9h-3.5zM188.9 39.8h5.2v1.9h-5.2zM195.9 39.8h1.8v1.9h-1.8zM199.4 39.8h3.5v1.9h-3.5zM206.4 39.8h3.5v1.9h-3.5zM211.6 39.8h3.5v1.9h-3.5zM216.9 39.8h1.8v1.9h-1.8zM220.4 39.8h1.8v1.9h-1.8zM223.9 39.8h5.2v1.9h-5.2zM234.4 39.8h1.8v1.9h-1.8zM237.9 39.8h1.8v1.9h-1.8zM241.4 39.8h3.5v1.9h-3.5zM248.4 39.8h1.8v1.9h-1.8zM255.4 39.8h3.5v1.9h-3.5zM264.1 39.8h1.8v1.9h-1.8zM267.6 39.8h1.8v1.9h-1.8zM274.6 39.8h1.8v1.9h-1.8zM278.1 39.8h1.8v1.9h-1.8zM167.9 41.6h3.5v1.9h-3.5zM174.9 41.6h5.2v1.9h-5.2zM183.6 41.6h1.8v1.9h-1.8zM188.9 41.6h1.8v1.9h-1.8zM192.4 41.6h1.8v1.9h-1.8zM199.4 41.6h3.5v1.9h-3.5zM204.6 41.6h1.8v1.9h-1.8zM208.1 41.6h5.2v1.9h-5.2zM216.9 41.6h1.8v1.9h-1.8zM222.1 41.6h14v1.9h-14zM237.9 41.6h1.8v1.9h-1.8zM241.4 41.6h1.8v1.9h-1.8zM248.4 41.6h1.8v1.9h-1.8zM251.9 41.6h1.8v1.9h-1.8zM255.4 41.6h1.8v1.9h-1.8zM264.1 41.6h1.8v1.9h-1.8zM272.9 41.6h1.8v1.9h-1.8zM278.1 41.6h1.8v1.9h-1.8zM166.1 43.3h1.8v1.9h-1.8zM169.6 43.3h1.8v1.9h-1.8zM173.1 43.3h1.8v1.9h-1.8zM178.4 43.3h3.5v1.9h-3.5zM183.6 43.3h7v1.9h-7zM195.9 43.3h1.8v1.9h-1.8zM199.4 43.3h1.8v1.9h-1.8zM204.6 43.3h1.8v1.9h-1.8zM213.4 43.3h1.8v1.9h-1.8zM218.6 43.3h1.8v1.9h-1.8zM222.1 43.3h1.8v1.9h-1.8zM227.4 43.3h1.8v1.9h-1.8zM230.9 43.3h3.5v1.9h-3.5zM236.1 43.3h1.8v1.9h-1.8zM239.6 43.3h1.8v1.9h-1.8zM248.4 43.3h7v1.9h-7zM257.1 43.3h1.8v1.9h-1.8zM262.4 43.3h3.5v1.9h-3.5zM267.6 43.3h10.5v1.9h-10.5zM281.6 43.3h1.8v1.9h-1.8zM166.1 45.1h1.8v1.9h-1.8zM169.6 45.1h5.2v1.9h-5.2zM180.1 45.1h5.2v1.9h-5.2zM188.9 45.1h1.8v1.9h-1.8zM192.4 45.1h1.8v1.9h-1.8zM197.6 45.1h1.8v1.9h-1.8zM201.1 45.1h1.8v1.9h-1.8zM204.6 45.1h5.2v1.9h-5.2zM211.6 45.1h1.8v1.9h-1.8zM216.9 45.1h3.5v1.9h-3.5zM227.4 45.1h7v1.9h-7zM239.6 45.1h1.8v1.9h-1.8zM244.9 45.1h1.8v1.9h-1.8zM248.4 45.1h10.5v1.9h-10.5zM265.9 45.1h1.8v1.9h-1.8zM269.4 45.1h1.8v1.9h-1.8zM274.6 45.1h1.8v1.9h-1.8zM279.9 45.1h1.8v1.9h-1.8zM283.4 45.1h1.8v1.9h-1.8zM166.1 46.8h1.8v1.9h-1.8zM173.1 46.8h1.8v1.9h-1.8zM176.6 46.8h3.5v1.9h-3.5zM188.9 46.8h1.8v1.9h-1.8zM195.9 46.8h1.8v1.9h-1.8zM201.1 46.8h3.5v1.9h-3.5zM206.4 46.8h1.8v1.9h-1.8zM209.9 46.8h5.2v1.9h-5.2zM216.9 46.8h7v1.9h-7zM230.9 46.8h1.8v1.9h-1.8zM234.4 46.8h1.8v1.9h-1.8zM241.4 46.8h1.8v1.9h-1.8zM248.4 46.8h7v1.9h-7zM264.1 46.8h5.2v1.9h-5.2zM271.1 46.8h10.5v1.9h-10.5zM169.6 48.6h5.2v1.9h-5.2zM176.6 48.6h1.8v1.9h-1.8zM181.9 48.6h1.8v1.9h-1.8zM185.4 48.6h1.8v1.9h-1.8zM188.9 48.6h5.2v1.9h-5.2zM197.6 48.6h1.8v1.9h-1.8zM204.6 48.6h1.8v1.9h-1.8zM208.1 48.6h1.8v1.9h-1.8zM211.6 48.6h1.8v1.9h-1.8zM215.1 48.6h3.5v1.9h-3.5zM222.1 48.6h1.8v1.9h-1.8zM225.6 48.6h1.8v1.9h-1.8zM234.4 48.6h5.2v1.9h-5.2zM241.4 48.6h1.8v1.9h-1.8zM244.9 48.6h5.2v1.9h-5.2zM253.6 48.6h1.8v1.9h-1.8zM257.1 48.6h3.5v1.9h-3.5zM267.6 48.6h5.2v1.9h-5.2zM278.1 48.6h1.8v1.9h-1.8zM285.1 48.6h1.8v1.9h-1.8zM166.1 50.3h5.2v1.9h-5.2zM174.9 50.3h7v1.9h-7zM183.6 50.3h5.2v1.9h-5.2zM192.4 50.3h1.8v1.9h-1.8zM195.9 50.3h3.5v1.9h-3.5zM204.6 50.3h3.5v1.9h-3.5zM209.9 50.3h8.8v1.9h-8.8zM225.6 50.3h3.5v1.9h-3.5zM230.9 50.3h1.8v1.9h-1.8zM236.1 50.3h1.8v1.9h-1.8zM241.4 50.3h3.5v1.9h-3.5zM257.1 50.3h3.5v1.9h-3.5zM262.4 50.3h3.5v1.9h-3.5zM271.1 50.3h5.2v1.9h-5.2zM278.1 50.3h1.8v1.9h-1.8zM283.4 50.3h1.8v1.9h-1.8zM167.9 52.1h1.8v1.9h-1.8zM171.4 52.1h1.8v1.9h-1.8zM178.4 52.1h1.8v1.9h-1.8zM192.4 52.1h1.8v1.9h-1.8zM195.9 52.1h1.8v1.9h-1.8zM199.4 52.1h1.8v1.9h-1.8zM202.9 52.1h1.8v1.9h-1.8zM206.4 52.1h12.2v1.9h-12.2zM220.4 52.1h5.2v1.9h-5.2zM230.9 52.1h1.8v1.9h-1.8zM234.4 52.1h5.2v1.9h-5.2zM244.9 52.1h1.8v1.9h-1.8zM248.4 52.1h1.8v1.9h-1.8zM251.9 52.1h1.8v1.9h-1.8zM258.9 52.1h3.5v1.9h-3.5zM264.1 52.1h1.8v1.9h-1.8zM267.6 52.1h1.8v1.9h-1.8zM271.1 52.1h10.5v1.9h-10.5zM283.4 52.1h3.5v1.9h-3.5zM167.9 53.8h1.8v1.9h-1.8zM173.1 53.8h1.8v1.9h-1.8zM180.1 53.8h1.8v1.9h-1.8zM185.4 53.8h3.5v1.9h-3.5zM192.4 53.8h7v1.9h-7zM201.1 53.8h3.5v1.9h-3.5zM208.1 53.8h1.8v1.9h-1.8zM222.1 53.8h1.8v1.9h-1.8zM229.1 53.8h1.8v1.9h-1.8zM234.4 53.8h5.2v1.9h-5.2zM241.4 53.8h5.2v1.9h-5.2zM253.6 53.8h1.8v1.9h-1.8zM257.1 53.8h1.8v1.9h-1.8zM264.1 53.8h3.5v1.9h-3.5zM269.4 53.8h1.8v1.9h-1.8zM274.6 53.8h1.8v1.9h-1.8zM281.6 53.8h1.8v1.9h-1.8zM162.6 55.6h1.8v1.9h-1.8zM167.9 55.6h1.8v1.9h-1.8zM171.4 55.6h3.5v1.9h-3.5zM178.4 55.6h5.2v1.9h-5.2zM187.1 55.6h1.8v1.9h-1.8zM190.6 55.6h1.8v1.9h-1.8zM194.1 55.6h1.8v1.9h-1.8zM202.9 55.6h5.2v1.9h-5.2zM213.4 55.6h1.8v1.9h-1.8zM220.4 55.6h7v1.9h-7zM246.6 55.6h1.8v1.9h-1.8zM250.1 55.6h1.8v1.9h-1.8zM253.6 55.6h5.2v1.9h-5.2zM264.1 55.6h1.8v1.9h-1.8zM271.1 55.6h8.8v1.9h-8.8zM283.4 55.6h1.8v1.9h-1.8zM286.9 55.6h1.8v1.9h-1.8zM160.9 57.3h1.8v1.9h-1.8zM169.6 57.3h3.5v1.9h-3.5zM178.4 57.3h5.2v1.9h-5.2zM185.4 57.3h7v1.9h-7zM194.1 57.3h1.8v1.9h-1.8zM197.6 57.3h1.8v1.9h-1.8zM201.1 57.3h3.5v1.9h-3.5zM206.4 57.3h1.8v1.9h-1.8zM209.9 57.3h3.5v1.9h-3.5zM220.4 57.3h1.8v1.9h-1.8zM225.6 57.3h1.8v1.9h-1.8zM229.1 57.3h1.8v1.9h-1.8zM234.4 57.3h3.5v1.9h-3.5zM241.4 57.3h3.5v1.9h-3.5zM246.6 57.3h1.8v1.9h-1.8zM251.9 57.3h3.5v1.9h-3.5zM257.1 57.3h1.8v1.9h-1.8zM260.6 57.3h1.8v1.9h-1.8zM264.1 57.3h1.8v1.9h-1.8zM269.4 57.3h3.5v1.9h-3.5zM279.9 57.3h3.5v1.9h-3.5zM167.9 59.1h3.5v1.9h-3.5zM173.1 59.1h1.8v1.9h-1.8zM181.9 59.1h7v1.9h-7zM194.1 59.1h1.8v1.9h-1.8zM202.9 59.1h1.8v1.9h-1.8zM211.6 59.1h3.5v1.9h-3.5zM218.6 59.1h1.8v1.9h-1.8zM223.9 59.1h1.8v1.9h-1.8zM229.1 59.1h5.2v1.9h-5.2zM237.9 59.1h3.5v1.9h-3.5zM244.9 59.1h1.8v1.9h-1.8zM253.6 59.1h1.8v1.9h-1.8zM257.1 59.1h5.2v1.9h-5.2zM264.1 59.1h1.8v1.9h-1.8zM267.6 59.1h1.8v1.9h-1.8zM271.1 59.1h3.5v1.9h-3.5zM276.4 59.1h3.5v1.9h-3.5zM283.4 59.1h1.8v1.9h-1.8zM160.9 60.8h3.5v1.9h-3.5zM171.4 60.8h1.8v1.9h-1.8zM174.9 60.8h1.8v1.9h-1.8zM183.6 60.8h10.5v1.9h-10.5zM197.6 60.8h1.8v1.9h-1.8zM202.9 60.8h1.8v1.9h-1.8zM206.4 60.8h3.5v1.9h-3.5zM211.6 60.8h1.8v1.9h-1.8zM220.4 60.8h5.2v1.9h-5.2zM229.1 60.8h7v1.9h-7zM241.4 60.8h1.8v1.9h-1.8zM250.1 60.8h3.5v1.9h-3.5zM258.9 60.8h1.8v1.9h-1.8zM264.1 60.8h7v1.9h-7zM272.9 60.8h5.2v1.9h-5.2zM279.9 60.8h1.8v1.9h-1.8zM283.4 60.8h3.5v1.9h-3.5zM164.4 62.6h1.8v1.9h-1.8zM167.9 62.6h1.8v1.9h-1.8zM174.9 62.6h3.5v1.9h-3.5zM180.1 62.6h1.8v1.9h-1.8zM183.6 62.6h5.2v1.9h-5.2zM192.4 62.6h1.8v1.9h-1.8zM195.9 62.6h7v1.9h-7zM204.6 62.6h3.5v1.9h-3.5zM209.9 62.6h1.8v1.9h-1.8zM213.4 62.6h1.8v1.9h-1.8zM216.9 62.6h1.8v1.9h-1.8zM222.1 62.6h10.5v1.9h-10.5zM237.9 62.6h3.5v1.9h-3.5zM243.1 62.6h1.8v1.9h-1.8zM246.6 62.6h1.8v1.9h-1.8zM250.1 62.6h1.8v1.9h-1.8zM253.6 62.6h5.2v1.9h-5.2zM262.4 62.6h3.5v1.9h-3.5zM267.6 62.6h1.8v1.9h-1.8zM271.1 62.6h3.5v1.9h-3.5zM278.1 62.6h5.2v1.9h-5.2zM286.9 62.6h3.5v1.9h-3.5zM166.1 64.3h3.5v1.9h-3.5zM171.4 64.3h1.8v1.9h-1.8zM174.9 64.3h1.8v1.9h-1.8zM178.4 64.3h1.8v1.9h-1.8zM185.4 64.3h1.8v1.9h-1.8zM188.9 64.3h1.8v1.9h-1.8zM192.4 64.3h3.5v1.9h-3.5zM197.6 64.3h5.2v1.9h-5.2zM204.6 64.3h1.8v1.9h-1.8zM208.1 64.3h1.8v1.9h-1.8zM211.6 64.3h1.8v1.9h-1.8zM218.6 64.3h1.8v1.9h-1.8zM222.1 64.3h1.8v1.9h-1.8zM225.6 64.3h1.8v1.9h-1.8zM237.9 64.3h1.8v1.9h-1.8zM241.4 64.3h7v1.9h-7zM250.1 64.3h3.5v1.9h-3.5zM255.4 64.3h3.5v1.9h-3.5zM265.9 64.3h1.8v1.9h-1.8zM271.1 64.3h3.5v1.9h-3.5zM278.1 64.3h7v1.9h-7zM288.6 64.3h1.8v1.9h-1.8zM162.6 66.1h1.8v1.9h-1.8zM167.9 66.1h3.5v1.9h-3.5zM174.9 66.1h1.8v1.9h-1.8zM180.1 66.1h7v1.9h-7zM195.9 66.1h1.8v1.9h-1.8zM202.9 66.1h3.5v1.9h-3.5zM208.1 66.1h1.8v1.9h-1.8zM211.6 66.1h3.5v1.9h-3.5zM216.9 66.1h3.5v1.9h-3.5zM232.6 66.1h1.8v1.9h-1.8zM236.1 66.1h1.8v1.9h-1.8zM239.6 66.1h1.8v1.9h-1.8zM246.6 66.1h1.8v1.9h-1.8zM250.1 66.1h1.8v1.9h-1.8zM253.6 66.1h3.5v1.9h-3.5zM258.9 66.1h1.8v1.9h-1.8zM265.9 66.1h3.5v1.9h-3.5zM271.1 66.1h14v1.9h-14zM160.9 67.8h1.8v1.9h-1.8zM169.6 67.8h7v1.9h-7zM178.4 67.8h1.8v1.9h-1.8zM181.9 67.8h3.5v1.9h-3.5zM187.1 67.8h1.8v1.9h-1.8zM192.4 67.8h1.8v1.9h-1.8zM195.9 67.8h1.8v1.9h-1.8zM199.4 67.8h3.5v1.9h-3.5zM204.6 67.8h7v1.9h-7zM213.4 67.8h3.5v1.9h-3.5zM220.4 67.8h5.2v1.9h-5.2zM239.6 67.8h1.8v1.9h-1.8zM246.6 67.8h1.8v1.9h-1.8zM250.1 67.8h1.8v1.9h-1.8zM260.6 67.8h1.8v1.9h-1.8zM267.6 67.8h5.2v1.9h-5.2zM274.6 67.8h3.5v1.9h-3.5zM279.9 67.8h3.5v1.9h-3.5zM160.9 69.6h1.8v1.9h-1.8zM166.1 69.6h1.8v1.9h-1.8zM169.6 69.6h1.8v1.9h-1.8zM176.6 69.6h3.5v1.9h-3.5zM181.9 69.6h3.5v1.9h-3.5zM201.1 69.6h3.5v1.9h-3.5zM206.4 69.6h1.8v1.9h-1.8zM213.4 69.6h5.2v1.9h-5.2zM227.4 69.6h1.8v1.9h-1.8zM232.6 69.6h1.8v1.9h-1.8zM237.9 69.6h3.5v1.9h-3.5zM246.6 69.6h1.8v1.9h-1.8zM257.1 69.6h5.2v1.9h-5.2zM265.9 69.6h3.5v1.9h-3.5zM272.9 69.6h1.8v1.9h-1.8zM278.1 69.6h3.5v1.9h-3.5zM283.4 69.6h1.8v1.9h-1.8zM286.9 69.6h1.8v1.9h-1.8zM162.6 71.3h1.8v1.9h-1.8zM167.9 71.3h1.8v1.9h-1.8zM176.6 71.3h5.2v1.9h-5.2zM183.6 71.3h5.2v1.9h-5.2zM195.9 71.3h3.5v1.9h-3.5zM201.1 71.3h1.8v1.9h-1.8zM204.6 71.3h7v1.9h-7zM215.1 71.3h7v1.9h-7zM227.4 71.3h1.8v1.9h-1.8zM230.9 71.3h3.5v1.9h-3.5zM237.9 71.3h1.8v1.9h-1.8zM243.1 71.3h1.8v1.9h-1.8zM251.9 71.3h3.5v1.9h-3.5zM257.1 71.3h3.5v1.9h-3.5zM265.9 71.3h7v1.9h-7zM274.6 71.3h1.8v1.9h-1.8zM278.1 71.3h1.8v1.9h-1.8zM281.6 71.3h7v1.9h-7zM160.9 73.1h7v1.9h-7zM169.6 73.1h3.5v1.9h-3.5zM174.9 73.1h3.5v1.9h-3.5zM180.1 73.1h3.5v1.9h-3.5zM187.1 73.1h3.5v1.9h-3.5zM192.4 73.1h1.8v1.9h-1.8zM195.9 73.1h1.8v1.9h-1.8zM201.1 73.1h5.2v1.9h-5.2zM208.1 73.1h1.8v1.9h-1.8zM213.4 73.1h3.5v1.9h-3.5zM218.6 73.1h1.8v1.9h-1.8zM222.1 73.1h1.8v1.9h-1.8zM227.4 73.1h1.8v1.9h-1.8zM230.9 73.1h1.8v1.9h-1.8zM236.1 73.1h7v1.9h-7zM244.9 73.1h1.8v1.9h-1.8zM248.4 73.1h1.8v1.9h-1.8zM251.9 73.1h1.8v1.9h-1.8zM255.4 73.1h8.8v1.9h-8.8zM265.9 73.1h3.5v1.9h-3.5zM276.4 73.1h5.2v1.9h-5.2zM285.1 73.1h1.8v1.9h-1.8zM166.1 74.8h3.5v1.9h-3.5zM174.9 74.8h14v1.9h-14zM190.6 74.8h1.8v1.9h-1.8zM197.6 74.8h3.5v1.9h-3.5zM202.9 74.8h3.5v1.9h-3.5zM209.9 74.8h3.5v1.9h-3.5zM216.9 74.8h5.2v1.9h-5.2zM223.9 74.8h1.8v1.9h-1.8zM229.1 74.8h1.8v1.9h-1.8zM232.6 74.8h1.8v1.9h-1.8zM237.9 74.8h3.5v1.9h-3.5zM243.1 74.8h1.8v1.9h-1.8zM253.6 74.8h3.5v1.9h-3.5zM258.9 74.8h1.8v1.9h-1.8zM264.1 74.8h1.8v1.9h-1.8zM267.6 74.8h1.8v1.9h-1.8zM272.9 74.8h1.8v1.9h-1.8zM281.6 74.8h3.5v1.9h-3.5zM288.6 74.8h1.8v1.9h-1.8zM159.1 76.6h1.8v1.9h-1.8zM164.4 76.6h3.5v1.9h-3.5zM169.6 76.6h1.8v1.9h-1.8zM173.1 76.6h3.5v1.9h-3.5zM178.4 76.6h1.8v1.9h-1.8zM181.9 76.6h1.8v1.9h-1.8zM188.9 76.6h1.8v1.9h-1.8zM194.1 76.6h1.8v1.9h-1.8zM199.4 76.6h12.2v1.9h-12.2zM213.4 76.6h14v1.9h-14zM230.9 76.6h1.8v1.9h-1.8zM237.9 76.6h1.8v1.9h-1.8zM241.4 76.6h3.5v1.9h-3.5zM246.6 76.6h1.8v1.9h-1.8zM257.1 76.6h7v1.9h-7zM267.6 76.6h3.5v1.9h-3.5zM276.4 76.6h1.8v1.9h-1.8zM283.4 76.6h3.5v1.9h-3.5zM164.4 78.3h3.5v1.9h-3.5zM181.9 78.3h3.5v1.9h-3.5zM187.1 78.3h1.8v1.9h-1.8zM190.6 78.3h3.5v1.9h-3.5zM195.9 78.3h7v1.9h-7zM204.6 78.3h1.8v1.9h-1.8zM211.6 78.3h3.5v1.9h-3.5zM218.6 78.3h5.2v1.9h-5.2zM229.1 78.3h5.2v1.9h-5.2zM236.1 78.3h8.8v1.9h-8.8zM257.1 78.3h1.8v1.9h-1.8zM262.4 78.3h1.8v1.9h-1.8zM271.1 78.3h3.5v1.9h-3.5zM276.4 78.3h3.5v1.9h-3.5zM281.6 78.3h3.5v1.9h-3.5zM166.1 80.1h3.5v1.9h-3.5zM173.1 80.1h1.8v1.9h-1.8zM176.6 80.1h3.5v1.9h-3.5zM181.9 80.1h1.8v1.9h-1.8zM187.1 80.1h1.8v1.9h-1.8zM190.6 80.1h1.8v1.9h-1.8zM195.9 80.1h7v1.9h-7zM209.9 80.1h1.8v1.9h-1.8zM215.1 80.1h1.8v1.9h-1.8zM218.6 80.1h3.5v1.9h-3.5zM227.4 80.1h1.8v1.9h-1.8zM230.9 80.1h7v1.9h-7zM239.6 80.1h3.5v1.9h-3.5zM244.9 80.1h1.8v1.9h-1.8zM257.1 80.1h1.8v1.9h-1.8zM260.6 80.1h1.8v1.9h-1.8zM267.6 80.1h3.5v1.9h-3.5zM276.4 80.1h1.8v1.9h-1.8zM279.9 80.1h1.8v1.9h-1.8zM285.1 80.1h1.8v1.9h-1.8zM160.9 81.8h1.8v1.9h-1.8zM167.9 81.8h5.2v1.9h-5.2zM174.9 81.8h1.8v1.9h-1.8zM178.4 81.8h1.8v1.9h-1.8zM181.9 81.8h3.5v1.9h-3.5zM194.1 81.8h5.2v1.9h-5.2zM204.6 81.8h3.5v1.9h-3.5zM211.6 81.8h5.2v1.9h-5.2zM218.6 81.8h1.8v1.9h-1.8zM223.9 81.8h5.2v1.9h-5.2zM232.6 81.8h7v1.9h-7zM241.4 81.8h5.2v1.9h-5.2zM248.4 81.8h5.2v1.9h-5.2zM255.4 81.8h3.5v1.9h-3.5zM260.6 81.8h3.5v1.9h-3.5zM265.9 81.8h1.8v1.9h-1.8zM274.6 81.8h1.8v1.9h-1.8zM167.9 83.6h1.8v1.9h-1.8zM176.6 83.6h1.8v1.9h-1.8zM180.1 83.6h7v1.9h-7zM190.6 83.6h10.5v1.9h-10.5zM202.9 83.6h3.5v1.9h-3.5zM208.1 83.6h8.8v1.9h-8.8zM222.1 83.6h1.8v1.9h-1.8zM227.4 83.6h3.5v1.9h-3.5zM234.4 83.6h1.8v1.9h-1.8zM237.9 83.6h1.8v1.9h-1.8zM241.4 83.6h1.8v1.9h-1.8zM246.6 83.6h8.8v1.9h-8.8zM257.1 83.6h5.2v1.9h-5.2zM267.6 83.6h1.8v1.9h-1.8zM274.6 83.6h1.8v1.9h-1.8zM279.9 83.6h5.2v1.9h-5.2zM162.6 85.3h1.8v1.9h-1.8zM169.6 85.3h1.8v1.9h-1.8zM173.1 85.3h7v1.9h-7zM181.9 85.3h1.8v1.9h-1.8zM187.1 85.3h5.2v1.9h-5.2zM197.6 85.3h1.8v1.9h-1.8zM202.9 85.3h7v1.9h-7zM211.6 85.3h1.8v1.9h-1.8zM215.1 85.3h1.8v1.9h-1.8zM225.6 85.3h1.8v1.9h-1.8zM229.1 85.3h1.8v1.9h-1.8zM236.1 85.3h1.8v1.9h-1.8zM241.4 85.3h3.5v1.9h-3.5zM248.4 85.3h5.2v1.9h-5.2zM257.1 85.3h1.8v1.9h-1.8zM260.6 85.3h1.8v1.9h-1.8zM264.1 85.3h7v1.9h-7zM274.6 85.3h1.8v1.9h-1.8zM278.1 85.3h5.2v1.9h-5.2zM286.9 85.3h3.5v1.9h-3.5zM162.6 87.1h1.8v1.9h-1.8zM169.6 87.1h1.8v1.9h-1.8zM173.1 87.1h3.5v1.9h-3.5zM178.4 87.1h1.8v1.9h-1.8zM181.9 87.1h1.8v1.9h-1.8zM185.4 87.1h1.8v1.9h-1.8zM188.9 87.1h1.8v1.9h-1.8zM192.4 87.1h1.8v1.9h-1.8zM199.4 87.1h10.5v1.9h-10.5zM213.4 87.1h1.8v1.9h-1.8zM216.9 87.1h1.8v1.9h-1.8zM220.4 87.1h1.8v1.9h-1.8zM225.6 87.1h1.8v1.9h-1.8zM230.9 87.1h3.5v1.9h-3.5zM237.9 87.1h1.8v1.9h-1.8zM243.1 87.1h1.8v1.9h-1.8zM248.4 87.1h1.8v1.9h-1.8zM251.9 87.1h1.8v1.9h-1.8zM257.1 87.1h1.8v1.9h-1.8zM262.4 87.1h5.2v1.9h-5.2zM269.4 87.1h1.8v1.9h-1.8zM272.9 87.1h1.8v1.9h-1.8zM276.4 87.1h3.5v1.9h-3.5zM281.6 87.1h3.5v1.9h-3.5zM162.6 88.8h3.5v1.9h-3.5zM169.6 88.8h1.8v1.9h-1.8zM173.1 88.8h7v1.9h-7zM181.9 88.8h1.8v1.9h-1.8zM185.4 88.8h1.8v1.9h-1.8zM188.9 88.8h5.2v1.9h-5.2zM195.9 88.8h1.8v1.9h-1.8zM201.1 88.8h3.5v1.9h-3.5zM208.1 88.8h3.5v1.9h-3.5zM216.9 88.8h8.8v1.9h-8.8zM227.4 88.8h1.8v1.9h-1.8zM230.9 88.8h3.5v1.9h-3.5zM248.4 88.8h5.2v1.9h-5.2zM255.4 88.8h7v1.9h-7zM264.1 88.8h1.8v1.9h-1.8zM269.4 88.8h1.8v1.9h-1.8zM272.9 88.8h7v1.9h-7zM285.1 88.8h1.8v1.9h-1.8zM167.9 90.6h1.8v1.9h-1.8zM171.4 90.6h1.8v1.9h-1.8zM181.9 90.6h1.8v1.9h-1.8zM187.1 90.6h1.8v1.9h-1.8zM190.6 90.6h1.8v1.9h-1.8zM197.6 90.6h1.8v1.9h-1.8zM202.9 90.6h1.8v1.9h-1.8zM206.4 90.6h1.8v1.9h-1.8zM209.9 90.6h1.8v1.9h-1.8zM215.1 90.6h5.2v1.9h-5.2zM229.1 90.6h3.5v1.9h-3.5zM234.4 90.6h1.8v1.9h-1.8zM243.1 90.6h3.5v1.9h-3.5zM250.1 90.6h8.8v1.9h-8.8zM262.4 90.6h5.2v1.9h-5.2zM271.1 90.6h3.5v1.9h-3.5zM278.1 90.6h1.8v1.9h-1.8zM281.6 90.6h1.8v1.9h-1.8zM285.1 90.6h1.8v1.9h-1.8zM166.1 92.3h3.5v1.9h-3.5zM171.4 92.3h3.5v1.9h-3.5zM176.6 92.3h5.2v1.9h-5.2zM183.6 92.3h1.8v1.9h-1.8zM188.9 92.3h3.5v1.9h-3.5zM195.9 92.3h7v1.9h-7zM204.6 92.3h3.5v1.9h-3.5zM211.6 92.3h3.5v1.9h-3.5zM218.6 92.3h1.8v1.9h-1.8zM223.9 92.3h1.8v1.9h-1.8zM227.4 92.3h3.5v1.9h-3.5zM232.6 92.3h1.8v1.9h-1.8zM241.4 92.3h1.8v1.9h-1.8zM244.9 92.3h3.5v1.9h-3.5zM250.1 92.3h3.5v1.9h-3.5zM255.4 92.3h1.8v1.9h-1.8zM265.9 92.3h3.5v1.9h-3.5zM276.4 92.3h5.2v1.9h-5.2zM283.4 92.3h3.5v1.9h-3.5zM164.4 94.1h1.8v1.9h-1.8zM171.4 94.1h1.8v1.9h-1.8zM174.9 94.1h1.8v1.9h-1.8zM183.6 94.1h3.5v1.9h-3.5zM188.9 94.1h1.8v1.9h-1.8zM192.4 94.1h7v1.9h-7zM204.6 94.1h5.2v1.9h-5.2zM215.1 94.1h5.2v1.9h-5.2zM222.1 94.1h3.5v1.9h-3.5zM229.1 94.1h1.8v1.9h-1.8zM232.6 94.1h1.8v1.9h-1.8zM237.9 94.1h3.5v1.9h-3.5zM243.1 94.1h1.8v1.9h-1.8zM246.6 94.1h3.5v1.9h-3.5zM251.9 94.1h1.8v1.9h-1.8zM258.9 94.1h1.8v1.9h-1.8zM262.4 94.1h1.8v1.9h-1.8zM265.9 94.1h3.5v1.9h-3.5zM271.1 94.1h1.8v1.9h-1.8zM274.6 94.1h1.8v1.9h-1.8zM278.1 94.1h1.8v1.9h-1.8zM167.9 95.8h3.5v1.9h-3.5zM173.1 95.8h1.8v1.9h-1.8zM176.6 95.8h5.2v1.9h-5.2zM185.4 95.8h1.8v1.9h-1.8zM188.9 95.8h1.8v1.9h-1.8zM194.1 95.8h3.5v1.9h-3.5zM199.4 95.8h1.8v1.9h-1.8zM202.9 95.8h3.5v1.9h-3.5zM208.1 95.8h1.8v1.9h-1.8zM211.6 95.8h1.8v1.9h-1.8zM215.1 95.8h1.8v1.9h-1.8zM218.6 95.8h1.8v1.9h-1.8zM223.9 95.8h5.2v1.9h-5.2zM230.9 95.8h1.8v1.9h-1.8zM234.4 95.8h3.5v1.9h-3.5zM239.6 95.8h1.8v1.9h-1.8zM243.1 95.8h1.8v1.9h-1.8zM246.6 95.8h1.8v1.9h-1.8zM255.4 95.8h3.5v1.9h-3.5zM264.1 95.8h1.8v1.9h-1.8zM272.9 95.8h5.2v1.9h-5.2zM281.6 95.8h1.8v1.9h-1.8zM285.1 95.8h1.8v1.9h-1.8zM173.1 97.6h7v1.9h-7zM181.9 97.6h1.8v1.9h-1.8zM185.4 97.6h3.5v1.9h-3.5zM190.6 97.6h1.8v1.9h-1.8zM197.6 97.6h3.5v1.9h-3.5zM202.9 97.6h1.8v1.9h-1.8zM206.4 97.6h1.8v1.9h-1.8zM209.9 97.6h3.5v1.9h-3.5zM215.1 97.6h3.5v1.9h-3.5zM220.4 97.6h1.8v1.9h-1.8zM227.4 97.6h3.5v1.9h-3.5zM232.6 97.6h1.8v1.9h-1.8zM237.9 97.6h5.2v1.9h-5.2zM246.6 97.6h10.5v1.9h-10.5zM262.4 97.6h1.8v1.9h-1.8zM272.9 97.6h1.8v1.9h-1.8zM276.4 97.6h5.2v1.9h-5.2zM166.1 99.3h1.8v1.9h-1.8zM169.6 99.3h1.8v1.9h-1.8zM176.6 99.3h3.5v1.9h-3.5zM183.6 99.3h1.8v1.9h-1.8zM190.6 99.3h1.8v1.9h-1.8zM194.1 99.3h1.8v1.9h-1.8zM197.6 99.3h1.8v1.9h-1.8zM201.1 99.3h7v1.9h-7zM211.6 99.3h10.5v1.9h-10.5zM227.4 99.3h1.8v1.9h-1.8zM237.9 99.3h1.8v1.9h-1.8zM244.9 99.3h1.8v1.9h-1.8zM248.4 99.3h3.5v1.9h-3.5zM257.1 99.3h1.8v1.9h-1.8zM271.1 99.3h1.8v1.9h-1.8zM278.1 99.3h1.8v1.9h-1.8zM166.1 101.1h1.8v1.9h-1.8zM171.4 101.1h1.8v1.9h-1.8zM174.9 101.1h7v1.9h-7zM188.9 101.1h1.8v1.9h-1.8zM199.4 101.1h3.5v1.9h-3.5zM206.4 101.1h1.8v1.9h-1.8zM213.4 101.1h1.8v1.9h-1.8zM216.9 101.1h3.5v1.9h-3.5zM222.1 101.1h1.8v1.9h-1.8zM225.6 101.1h7v1.9h-7zM236.1 101.1h5.2v1.9h-5.2zM243.1 101.1h1.8v1.9h-1.8zM248.4 101.1h1.8v1.9h-1.8zM251.9 101.1h1.8v1.9h-1.8zM255.4 101.1h3.5v1.9h-3.5zM260.6 101.1h3.5v1.9h-3.5zM269.4 101.1h1.8v1.9h-1.8zM278.1 101.1h1.8v1.9h-1.8zM281.6 101.1h1.8v1.9h-1.8zM166.1 102.8h3.5v1.9h-3.5zM174.9 102.8h5.2v1.9h-5.2zM185.4 102.8h1.8v1.9h-1.8zM192.4 102.8h1.8v1.9h-1.8zM195.9 102.8h1.8v1.9h-1.8zM199.4 102.8h1.8v1.9h-1.8zM204.6 102.8h1.8v1.9h-1.8zM213.4 102.8h1.8v1.9h-1.8zM216.9 102.8h1.8v1.9h-1.8zM223.9 102.8h1.8v1.9h-1.8zM232.6 102.8h5.2v1.9h-5.2zM241.4 102.8h1.8v1.9h-1.8zM246.6 102.8h3.5v1.9h-3.5zM253.6 102.8h1.8v1.9h-1.8zM257.1 102.8h1.8v1.9h-1.8zM260.6 102.8h1.8v1.9h-1.8zM269.4 102.8h1.8v1.9h-1.8zM276.4 102.8h3.5v1.9h-3.5zM171.4 104.6h1.8v1.9h-1.8zM176.6 104.6h1.8v1.9h-1.8zM180.1 104.6h8.8v1.9h-8.8zM192.4 104.6h3.5v1.9h-3.5zM197.6 104.6h12.2v1.9h-12.2zM211.6 104.6h3.5v1.9h-3.5zM216.9 104.6h1.8v1.9h-1.8zM223.9 104.6h3.5v1.9h-3.5zM229.1 104.6h1.8v1.9h-1.8zM236.1 104.6h3.5v1.9h-3.5zM243.1 104.6h1.8v1.9h-1.8zM246.6 104.6h1.8v1.9h-1.8zM250.1 104.6h1.8v1.9h-1.8zM255.4 104.6h1.8v1.9h-1.8zM258.9 104.6h5.2v1.9h-5.2zM269.4 104.6h1.8v1.9h-1.8zM272.9 104.6h3.5v1.9h-3.5zM176.6 106.3h3.5v1.9h-3.5zM181.9 106.3h3.5v1.9h-3.5zM194.1 106.3h7v1.9h-7zM208.1 106.3h1.8v1.9h-1.8zM211.6 106.3h1.8v1.9h-1.8zM218.6 106.3h1.8v1.9h-1.8zM236.1 106.3h1.8v1.9h-1.8zM243.1 106.3h3.5v1.9h-3.5zM250.1 106.3h7v1.9h-7zM262.4 106.3h1.8v1.9h-1.8zM265.9 106.3h1.8v1.9h-1.8zM269.4 106.3h3.5v1.9h-3.5zM274.6 106.3h5.2v1.9h-5.2zM173.1 108.1h1.8v1.9h-1.8zM176.6 108.1h3.5v1.9h-3.5zM181.9 108.1h3.5v1.9h-3.5zM187.1 108.1h1.8v1.9h-1.8zM190.6 108.1h1.8v1.9h-1.8zM197.6 108.1h1.8v1.9h-1.8zM201.1 108.1h1.8v1.9h-1.8zM204.6 108.1h3.5v1.9h-3.5zM213.4 108.1h1.8v1.9h-1.8zM218.6 108.1h1.8v1.9h-1.8zM227.4 108.1h1.8v1.9h-1.8zM230.9 108.1h7v1.9h-7zM241.4 108.1h10.5v1.9h-10.5zM255.4 108.1h3.5v1.9h-3.5zM260.6 108.1h3.5v1.9h-3.5zM278.1 108.1h1.8v1.9h-1.8zM171.4 109.8h1.8v1.9h-1.8zM178.4 109.8h5.2v1.9h-5.2zM187.1 109.8h7v1.9h-7zM197.6 109.8h7v1.9h-7zM206.4 109.8h1.8v1.9h-1.8zM213.4 109.8h1.8v1.9h-1.8zM216.9 109.8h3.5v1.9h-3.5zM223.9 109.8h5.2v1.9h-5.2zM236.1 109.8h1.8v1.9h-1.8zM239.6 109.8h1.8v1.9h-1.8zM244.9 109.8h5.2v1.9h-5.2zM251.9 109.8h3.5v1.9h-3.5zM258.9 109.8h3.5v1.9h-3.5zM265.9 109.8h3.5v1.9h-3.5zM276.4 109.8h1.8v1.9h-1.8zM176.6 111.6h1.8v1.9h-1.8zM180.1 111.6h5.2v1.9h-5.2zM190.6 111.6h3.5v1.9h-3.5zM195.9 111.6h5.2v1.9h-5.2zM204.6 111.6h1.8v1.9h-1.8zM209.9 111.6h3.5v1.9h-3.5zM216.9 111.6h3.5v1.9h-3.5zM222.1 111.6h3.5v1.9h-3.5zM232.6 111.6h3.5v1.9h-3.5zM239.6 111.6h5.2v1.9h-5.2zM246.6 111.6h1.8v1.9h-1.8zM255.4 111.6h5.2v1.9h-5.2zM262.4 111.6h1.8v1.9h-1.8zM267.6 111.6h1.8v1.9h-1.8zM271.1 111.6h1.8v1.9h-1.8zM274.6 111.6h1.8v1.9h-1.8zM176.6 113.3h1.8v1.9h-1.8zM190.6 113.3h3.5v1.9h-3.5zM195.9 113.3h5.2v1.9h-5.2zM202.9 113.3h1.8v1.9h-1.8zM208.1 113.3h3.5v1.9h-3.5zM213.4 113.3h5.2v1.9h-5.2zM222.1 113.3h3.5v1.9h-3.5zM230.9 113.3h5.2v1.9h-5.2zM237.9 113.3h1.8v1.9h-1.8zM244.9 113.3h5.2v1.9h-5.2zM255.4 113.3h3.5v1.9h-3.5zM272.9 113.3h1.8v1.9h-1.8zM180.1 115.1h1.8v1.9h-1.8zM187.1 115.1h10.5v1.9h-10.5zM209.9 115.1h8.8v1.9h-8.8zM222.1 115.1h1.8v1.9h-1.8zM232.6 115.1h1.8v1.9h-1.8zM236.1 115.1h1.8v1.9h-1.8zM239.6 115.1h1.8v1.9h-1.8zM244.9 115.1h1.8v1.9h-1.8zM253.6 115.1h1.8v1.9h-1.8zM260.6 115.1h5.2v1.9h-5.2zM267.6 115.1h3.5v1.9h-3.5zM185.4 116.8h5.2v1.9h-5.2zM192.4 116.8h3.5v1.9h-3.5zM206.4 116.8h12.2v1.9h-12.2zM223.9 116.8h1.8v1.9h-1.8zM227.4 116.8h7v1.9h-7zM236.1 116.8h1.8v1.9h-1.8zM239.6 116.8h1.8v1.9h-1.8zM243.1 116.8h1.8v1.9h-1.8zM246.6 116.8h1.8v1.9h-1.8zM250.1 116.8h1.8v1.9h-1.8zM257.1 116.8h5.2v1.9h-5.2zM264.1 116.8h1.8v1.9h-1.8zM271.1 116.8h3.5v1.9h-3.5zM178.4 118.6h1.8v1.9h-1.8zM187.1 118.6h5.2v1.9h-5.2zM194.1 118.6h1.8v1.9h-1.8zM197.6 118.6h1.8v1.9h-1.8zM201.1 118.6h1.8v1.9h-1.8zM204.6 118.6h3.5v1.9h-3.5zM209.9 118.6h3.5v1.9h-3.5zM215.1 118.6h3.5v1.9h-3.5zM220.4 118.6h8.8v1.9h-8.8zM230.9 118.6h1.8v1.9h-1.8zM234.4 118.6h1.8v1.9h-1.8zM239.6 118.6h8.8v1.9h-8.8zM250.1 118.6h14v1.9h-14zM271.1 118.6h1.8v1.9h-1.8zM190.6 120.3h1.8v1.9h-1.8zM195.9 120.3h3.5v1.9h-3.5zM201.1 120.3h5.2v1.9h-5.2zM208.1 120.3h1.8v1.9h-1.8zM211.6 120.3h7v1.9h-7zM220.4 120.3h3.5v1.9h-3.5zM227.4 120.3h3.5v1.9h-3.5zM234.4 120.3h3.5v1.9h-3.5zM241.4 120.3h1.8v1.9h-1.8zM248.4 120.3h1.8v1.9h-1.8zM257.1 120.3h1.8v1.9h-1.8zM260.6 120.3h3.5v1.9h-3.5zM267.6 120.3h1.8v1.9h-1.8zM181.9 122.1h1.8v1.9h-1.8zM185.4 122.1h3.5v1.9h-3.5zM194.1 122.1h1.8v1.9h-1.8zM197.6 122.1h1.8v1.9h-1.8zM201.1 122.1h3.5v1.9h-3.5zM213.4 122.1h1.8v1.9h-1.8zM216.9 122.1h1.8v1.9h-1.8zM220.4 122.1h3.5v1.9h-3.5zM225.6 122.1h5.2v1.9h-5.2zM232.6 122.1h5.2v1.9h-5.2zM239.6 122.1h1.8v1.9h-1.8zM243.1 122.1h3.5v1.9h-3.5zM250.1 122.1h5.2v1.9h-5.2zM257.1 122.1h3.5v1.9h-3.5zM265.9 122.1h1.8v1.9h-1.8zM183.6 123.8h1.8v1.9h-1.8zM197.6 123.8h1.8v1.9h-1.8zM201.1 123.8h3.5v1.9h-3.5zM206.4 123.8h7v1.9h-7zM216.9 123.8h1.8v1.9h-1.8zM227.4 123.8h3.5v1.9h-3.5zM239.6 123.8h3.5v1.9h-3.5zM246.6 123.8h1.8v1.9h-1.8zM250.1 123.8h5.2v1.9h-5.2zM258.9 123.8h1.8v1.9h-1.8zM190.6 125.6h1.8v1.9h-1.8zM199.4 125.6h1.8v1.9h-1.8zM204.6 125.6h3.5v1.9h-3.5zM209.9 125.6h3.5v1.9h-3.5zM216.9 125.6h1.8v1.9h-1.8zM220.4 125.6h1.8v1.9h-1.8zM225.6 125.6h15.8v1.9h-15.8zM246.6 125.6h1.8v1.9h-1.8zM251.9 125.6h1.8v1.9h-1.8zM255.4 125.6h1.8v1.9h-1.8zM258.9 125.6h1.8v1.9h-1.8zM199.4 127.3h1.8v1.9h-1.8zM202.9 127.3h3.5v1.9h-3.5zM215.1 127.3h3.5v1.9h-3.5zM222.1 127.3h7v1.9h-7zM230.9 127.3h5.2v1.9h-5.2zM239.6 127.3h3.5v1.9h-3.5zM246.6 127.3h3.5v1.9h-3.5zM258.9 127.3h3.5v1.9h-3.5zM192.4 129.1h3.5v1.9h-3.5zM199.4 129.1h1.8v1.9h-1.8zM204.6 129.1h1.8v1.9h-1.8zM208.1 129.1h1.8v1.9h-1.8zM213.4 129.1h3.5v1.9h-3.5zM218.6 129.1h1.8v1.9h-1.8zM222.1 129.1h1.8v1.9h-1.8zM227.4 129.1h1.8v1.9h-1.8zM230.9 129.1h1.8v1.9h-1.8zM237.9 129.1h3.5v1.9h-3.5zM244.9 129.1h3.5v1.9h-3.5zM250.1 129.1h1.8v1.9h-1.8zM199.4 130.8h1.8v1.9h-1.8zM202.9 130.8h3.5v1.9h-3.5zM213.4 130.8h3.5v1.9h-3.5zM218.6 130.8h5.2v1.9h-5.2zM232.6 130.8h3.5v1.9h-3.5zM237.9 130.8h1.8v1.9h-1.8zM241.4 130.8h3.5v1.9h-3.5zM246.6 130.8h1.8v1.9h-1.8zM199.4 132.6h1.8v1.9h-1.8zM211.6 132.6h3.5v1.9h-3.5zM218.6 132.6h1.8v1.9h-1.8zM222.1 132.6h3.5v1.9h-3.5zM239.6 132.6h1.8v1.9h-1.8zM246.6 132.6h1.8v1.9h-1.8zM202.9 134.3h1.8v1.9h-1.8zM209.9 134.3h1.8v1.9h-1.8zM216.9 134.3h1.8v1.9h-1.8zM220.4 134.3h1.8v1.9h-1.8zM223.9 134.3h3.5v1.9h-3.5zM229.1 134.3h7v1.9h-7zM239.6 134.3h3.5v1.9h-3.5zM211.6 136.1h1.8v1.9h-1.8zM216.9 136.1h1.8v1.9h-1.8zM237.9 136.1h1.8v1.9h-1.8zM220.4 137.8h1.8v1.9h-1.8z"/>
<rect x="170.7" y="147.3" width="265" height="213.6" fill="none" stroke="#3a3a3a" stroke-width="1.4"/>
<path d="M170.7 360.9v-4M170.7 147.3v4M197.2 360.9v-2M197.2 147.3v2M223.7 360.9v-4M223.7 147.3v4M250.2 360.9v-2M250.2 147.3v2M276.7 360.9v-4M276.7 147.3v4M303.2 360.9v-2M303.2 147.3v2M329.7 360.9v-4M329.7 147.3v4M356.2 360.9v-2M356.2 147.3v2M382.7 360.9v-4M382.7 147.3v4M409.2 360.9v-2M409.2 147.3v2M435.7 360.9v-4M435.7 147.3v4M170.7 360.9h4M435.7 360.9h-4M170.7 339.5h2M435.7 339.5h-2M170.7 318.2h4M435.7 318.2h-4M170.7 296.8h2M435.7 296.8h-2M170.7 275.5h4M435.7 275.5h-4M170.7 254.1h2M435.7 254.1h-2M170.7 232.7h4M435.7 232.7h-4M170.7 211.4h2M435.7 211.4h-2M170.7 190.0h4M435.7 190.0h-4M170.7 168.7h2M435.7 168.7h-2M170.7 147.3h4M435.7 147.3h-4" stroke="#3a3a3a" stroke-width="1.2" fill="none"/>
<text x="165.9" y="364.5" text-anchor="end" class="tl">0.0</text>
<text x="165.9" y="321.8" text-anchor="end" class="tl">0.2</text>
<text x="165.9" y="279.1" text-anchor="end" class="tl">0.4</text>
<text x="165.9" y="236.3" text-anchor="end" class="tl">0.6</text>
<text x="165.9" y="193.6" text-anchor="end" class="tl">0.8</text>
<text x="165.9" y="150.9" text-anchor="end" class="tl">1.0</text>
<text x="170.7" y="372.8" text-anchor="middle" class="tl">0</text>
<text x="223.7" y="372.8" text-anchor="middle" class="tl">20</text>
<text x="276.7" y="372.8" text-anchor="middle" class="tl">40</text>
<text x="329.7" y="372.8" text-anchor="middle" class="tl">60</text>
<text x="382.7" y="372.8" text-anchor="middle" class="tl">80</text>
<text x="435.7" y="372.8" text-anchor="middle" class="tl">100</text>
<polyline points="200.8,179.3 213.5,192.1 239.9,217.7 294.9,266.8 316.0,284.0 417.8,352.7" fill="none" stroke="#ff2020" stroke-width="1.1"/>
<polyline points="200.8,188.1 213.4,236.9 239.9,281.9 294.9,284.0 316.0,290.4 418.1,331.1" fill="none" stroke="#1010ff" stroke-width="1.1"/>
<polyline points="219.4,270.3 249.3,280.0 283.1,289.6 423.8,351.8" fill="none" stroke="#108010" stroke-width="1.1"/>
<circle cx="200.8" cy="179.3" r="2.3" fill="#ff0000"/>
<circle cx="213.5" cy="192.1" r="2.3" fill="#ff0000"/>
<circle cx="239.9" cy="217.7" r="2.3" fill="#ff0000"/>
<circle cx="294.9" cy="266.8" r="2.3" fill="#ff0000"/>
<circle cx="316.0" cy="284.0" r="2.3" fill="#ff0000"/>
<circle cx="417.8" cy="352.7" r="2.3" fill="#ff0000"/>
<rect x="198.6" y="185.9" width="4.4" height="4.4" fill="#0000ff"/>
<rect x="211.2" y="234.7" width="4.4" height="4.4" fill="#0000ff"/>
<rect x="237.7" y="279.7" width="4.4" height="4.4" fill="#0000ff"/>
<rect x="292.7" y="281.8" width="4.4" height="4.4" fill="#0000ff"/>
<rect x="313.8" y="288.2" width="4.4" height="4.4" fill="#0000ff"/>
<rect x="415.9" y="328.9" width="4.4" height="4.4" fill="#0000ff"/>
<path d="M219.4 267.3L222.1 272.0L216.7 272.0z" fill="#008000"/>
<path d="M249.3 277.0L252.0 281.7L246.6 281.7z" fill="#008000"/>
<path d="M283.1 286.6L285.8 291.3L280.4 291.3z" fill="#008000"/>
<path d="M423.8 348.8L426.5 353.5L421.1 353.5z" fill="#008000"/>
<line x1="337.2" y1="161.2" x2="362.6" y2="161.2" stroke="#ff0000" stroke-width="1.1"/>
<circle cx="349.9" cy="161.2" r="2.3" fill="#ff0000"/>
<text x="365.3" y="164.8" class="lg">Prager model</text>
<line x1="337.2" y1="174.4" x2="362.6" y2="174.4" stroke="#0000ff" stroke-width="1.1"/>
<rect x="347.7" y="172.2" width="4.4" height="4.4" fill="#0000ff"/>
<text x="365.3" y="178.0" class="lg">Post-mercury</text>
<line x1="337.2" y1="187.7" x2="362.6" y2="187.7" stroke="#008000" stroke-width="1.1"/>
<path d="M349.9 184.7L352.6 189.4L347.2 189.4z" fill="#008000"/>
<text x="365.3" y="191.3" class="lg">Post-water</text>
<text x="186" y="166.2" class="ch">(a)</text><text x="202.4" y="166.2" class="ch">SD</text>
<text transform="translate(146.6 253.5) rotate(-90)" text-anchor="middle" class="yl"><tspan font-style="italic">k</tspan>/<tspan font-style="italic">k</tspan><tspan font-size="9" dy="2.6">o</tspan></text>
<text x="241.2" y="391.9" class="lab">Blocked pore volume (%)</text>
<line x1="136" y1="162.8" x2="191.9" y2="187.1" stroke="#000" stroke-width="1.3"/><path d="M197.8 189.6L189.5 190.1L192.5 183.2z" fill="#000"/>
<line x1="123.3" y1="283.6" x2="204.4" y2="241.3" stroke="#000" stroke-width="1.3"/><path d="M210.1 238.3L205.3 245.0L201.8 238.4z" fill="#000"/>
<line x1="235.5" y1="138.2" x2="247.1" y2="206.0" stroke="#000" stroke-width="1.3"/><path d="M248.2 212.3L243.3 205.6L250.6 204.4z" fill="#000"/>
<line x1="233.1" y1="392.4" x2="240.0" y2="294.3" stroke="#000" stroke-width="1.3"/><path d="M240.4 287.9L243.6 295.5L236.1 295.0z" fill="#000"/>
<text x="304.4" y="60.1" class="lab">Random arrangement of</text>
<text x="304.4" y="73.1" class="lab">entrapped mercury</text>
<text x="24.9" y="238.7" class="lab">8600 psia, 25.1 nm</text>
<text x="25.8" y="408" class="lab">10800 psia, 19.9 nm</text>
<text x="52" y="463.8" class="lab">14700 psia, 14.7 nm</text>
<text x="226.6" y="541" text-anchor="middle" class="big">(<tspan font-weight="bold">a</tspan>)</text>
</svg></body></html>
